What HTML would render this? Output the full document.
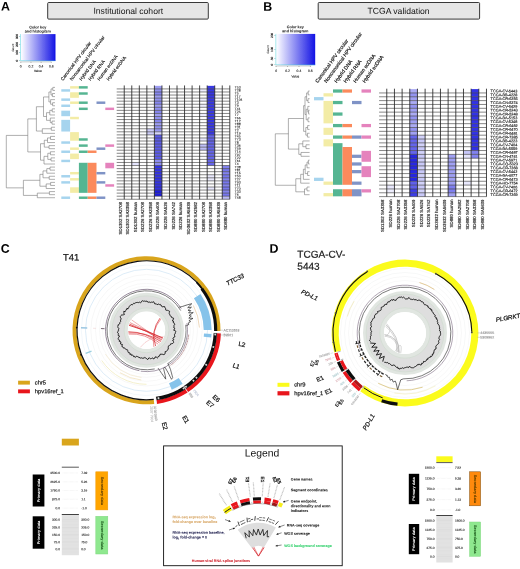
<!DOCTYPE html>
<html lang="en"><head><meta charset="utf-8"><title>Figure</title><style>html,body{margin:0;padding:0;background:#fff}body{width:520px;height:569px;overflow:hidden;font-family:"Liberation Sans",sans-serif}svg{display:block}</style></head><body>
<svg width="520" height="569" viewBox="0 0 520 569" text-rendering="geometricPrecision" font-family='"Liberation Sans", sans-serif'>
<rect x="0.00" y="0.00" width="520.00" height="569.00" fill="#fff"/>
<defs><filter id="soft" x="0" y="0" width="520" height="569" filterUnits="userSpaceOnUse"><feGaussianBlur stdDeviation="0.33"/></filter></defs>
<g filter="url(#soft)">
<rect x="0.00" y="0.00" width="520.00" height="569.00" fill="#fff"/>
<text x="0.90" y="10.60" font-size="12.4" font-weight="bold" fill="#000" transform="rotate(0.05 0.90 10.60)">A</text>
<text x="263.30" y="10.70" font-size="12.4" font-weight="bold" fill="#000" transform="rotate(0.05 263.30 10.70)">B</text>
<text x="0.70" y="252.80" font-size="12.4" font-weight="bold" fill="#000" transform="rotate(0.05 0.70 252.80)">C</text>
<text x="269.60" y="252.80" font-size="12.4" font-weight="bold" fill="#000" transform="rotate(0.05 269.60 252.80)">D</text>
<rect x="47.70" y="2.50" width="160.60" height="16.60" fill="#e6e6e6" stroke="#222" stroke-width="0.9" rx="1" ry="1"/>
<text x="128.30" y="13.90" font-size="8.6" text-anchor="middle" fill="#111" transform="rotate(0.05 128.30 13.90)">Institutional cohort</text>
<rect x="318.20" y="2.50" width="161.40" height="16.60" fill="#e6e6e6" stroke="#222" stroke-width="0.9" rx="1" ry="1"/>
<text x="398.60" y="13.90" font-size="8.6" text-anchor="middle" fill="#111" transform="rotate(0.05 398.60 13.90)">TCGA validation</text>
<defs><linearGradient id="gA" x1="0" x2="1" y1="0" y2="0"><stop offset="0" stop-color="#ffffff"/><stop offset="0.06" stop-color="#f6f6ff"/><stop offset="1" stop-color="#1212e4"/></linearGradient></defs>
<rect x="20.20" y="34.10" width="35.30" height="26.90" fill="url(#gA)"/>
<text x="37.80" y="28.40" font-size="3.8" text-anchor="middle" font-weight="bold" fill="#1a1a1a" transform="rotate(0.05 37.80 28.40)" stroke="#1a1a1a" stroke-width="0.046">Color key</text>
<text x="37.80" y="32.50" font-size="3.8" text-anchor="middle" font-weight="bold" fill="#1a1a1a" transform="rotate(0.05 37.80 32.50)" stroke="#1a1a1a" stroke-width="0.046">and histogram</text>
<path d="M20.50 34.10 L20.50 60.50 L25.20 60.70 L55.50 60.80" fill="none" stroke="#3fd0dc" stroke-width="0.45"/>
<line x1="20.20" y1="61.90" x2="51.50" y2="61.90" stroke="#555" stroke-width="0.3"/>
<line x1="20.80" y1="61.90" x2="20.80" y2="62.90" stroke="#444" stroke-width="0.35"/>
<text x="20.80" y="67.40" font-size="3.4" text-anchor="middle" fill="#222" transform="rotate(0.05 20.80 67.40)" stroke="#222" stroke-width="0.109">0</text>
<line x1="30.97" y1="61.90" x2="30.97" y2="62.90" stroke="#444" stroke-width="0.35"/>
<text x="30.97" y="67.40" font-size="3.4" text-anchor="middle" fill="#222" transform="rotate(0.05 30.97 67.40)" stroke="#222" stroke-width="0.109">0.2</text>
<line x1="41.13" y1="61.90" x2="41.13" y2="62.90" stroke="#444" stroke-width="0.35"/>
<text x="41.13" y="67.40" font-size="3.4" text-anchor="middle" fill="#222" transform="rotate(0.05 41.13 67.40)" stroke="#222" stroke-width="0.109">0.4</text>
<line x1="51.30" y1="61.90" x2="51.30" y2="62.90" stroke="#444" stroke-width="0.35"/>
<text x="51.30" y="67.40" font-size="3.4" text-anchor="middle" fill="#222" transform="rotate(0.05 51.30 67.40)" stroke="#222" stroke-width="0.109">0.6</text>
<text x="37.80" y="72.00" font-size="3.1" text-anchor="middle" fill="#222" transform="rotate(0.05 37.80 72.00)" stroke="#222" stroke-width="0.099">Value</text>
<line x1="19.00" y1="60.60" x2="20.20" y2="60.60" stroke="#2a8a9a" stroke-width="0.4"/>
<text x="17.60" y="60.60" font-size="3.1" text-anchor="middle" fill="#222" transform="rotate(-90.00 17.60 60.60)" stroke="#222" stroke-width="0.099">0</text>
<line x1="19.00" y1="52.50" x2="20.20" y2="52.50" stroke="#2a8a9a" stroke-width="0.4"/>
<text x="17.60" y="52.50" font-size="3.1" text-anchor="middle" fill="#222" transform="rotate(-90.00 17.60 52.50)" stroke="#222" stroke-width="0.099">100</text>
<line x1="19.00" y1="44.50" x2="20.20" y2="44.50" stroke="#2a8a9a" stroke-width="0.4"/>
<text x="17.60" y="44.50" font-size="3.1" text-anchor="middle" fill="#222" transform="rotate(-90.00 17.60 44.50)" stroke="#222" stroke-width="0.099">200</text>
<line x1="19.00" y1="36.50" x2="20.20" y2="36.50" stroke="#2a8a9a" stroke-width="0.4"/>
<text x="17.60" y="36.50" font-size="3.1" text-anchor="middle" fill="#222" transform="rotate(-90.00 17.60 36.50)" stroke="#222" stroke-width="0.099">300</text>
<text x="13.60" y="47.55" font-size="3.0" text-anchor="middle" fill="#222" transform="rotate(-90.00 13.60 47.55)" stroke="#222" stroke-width="0.096">Count</text>
<text x="62.90" y="81.00" font-size="4.6" fill="#111" transform="rotate(-53.00 62.90 81.00)" stroke="#111" stroke-width="0.147">Canonical HPV circular</text>
<text x="72.10" y="81.00" font-size="4.6" fill="#111" transform="rotate(-53.00 72.10 81.00)" stroke="#111" stroke-width="0.147">Noncanonical HPV circular</text>
<text x="81.40" y="81.00" font-size="4.6" fill="#111" transform="rotate(-53.00 81.40 81.00)" stroke="#111" stroke-width="0.147">Hybrid DNA</text>
<text x="90.40" y="81.00" font-size="4.6" fill="#111" transform="rotate(-53.00 90.40 81.00)" stroke="#111" stroke-width="0.147">Hybrid RNA</text>
<text x="99.40" y="81.00" font-size="4.6" fill="#111" transform="rotate(-53.00 99.40 81.00)" stroke="#111" stroke-width="0.147">Human ecDNA</text>
<text x="108.80" y="81.00" font-size="4.6" fill="#111" transform="rotate(-53.00 108.80 81.00)" stroke="#111" stroke-width="0.147">Hybrid ecDNA</text>
<rect x="61.30" y="89.21" width="8.80" height="2.46" fill="#a6d4ee"/>
<rect x="61.30" y="98.41" width="8.80" height="2.46" fill="#a6d4ee"/>
<rect x="61.30" y="104.54" width="8.80" height="2.46" fill="#a6d4ee"/>
<rect x="61.30" y="110.67" width="8.80" height="5.53" fill="#a6d4ee"/>
<rect x="61.30" y="119.86" width="8.80" height="11.66" fill="#a6d4ee"/>
<rect x="61.30" y="141.32" width="8.80" height="2.46" fill="#a6d4ee"/>
<rect x="61.30" y="150.51" width="8.80" height="2.46" fill="#a6d4ee"/>
<rect x="61.30" y="159.71" width="8.80" height="2.46" fill="#a6d4ee"/>
<rect x="61.30" y="175.04" width="8.80" height="2.46" fill="#a6d4ee"/>
<rect x="61.30" y="181.17" width="8.80" height="2.46" fill="#a6d4ee"/>
<rect x="61.30" y="196.49" width="8.80" height="2.46" fill="#a6d4ee"/>
<rect x="70.10" y="86.15" width="8.80" height="2.46" fill="#f3eca6"/>
<rect x="70.10" y="92.28" width="8.80" height="5.53" fill="#f3eca6"/>
<rect x="70.10" y="101.47" width="8.80" height="2.46" fill="#f3eca6"/>
<rect x="70.10" y="116.80" width="8.80" height="2.46" fill="#f3eca6"/>
<rect x="70.10" y="132.12" width="8.80" height="8.60" fill="#f3eca6"/>
<rect x="70.10" y="147.45" width="8.80" height="2.46" fill="#f3eca6"/>
<rect x="70.10" y="153.58" width="8.80" height="5.53" fill="#f3eca6"/>
<rect x="70.10" y="171.97" width="8.80" height="2.46" fill="#f3eca6"/>
<rect x="70.10" y="178.10" width="8.80" height="2.46" fill="#f3eca6"/>
<rect x="70.10" y="187.30" width="8.80" height="5.53" fill="#f3eca6"/>
<rect x="78.90" y="86.15" width="8.80" height="2.46" fill="#55b592"/>
<rect x="78.90" y="92.28" width="8.80" height="2.46" fill="#55b592"/>
<rect x="78.90" y="101.47" width="8.80" height="2.46" fill="#55b592"/>
<rect x="78.90" y="107.60" width="8.80" height="2.46" fill="#55b592"/>
<rect x="78.90" y="138.25" width="8.80" height="2.46" fill="#55b592"/>
<rect x="78.90" y="144.38" width="8.80" height="2.46" fill="#55b592"/>
<rect x="78.90" y="150.51" width="8.80" height="2.46" fill="#55b592"/>
<rect x="78.90" y="162.78" width="8.80" height="30.05" fill="#55b592"/>
<rect x="78.90" y="196.49" width="8.80" height="2.46" fill="#55b592"/>
<rect x="87.70" y="150.51" width="8.80" height="2.46" fill="#fb8a5c"/>
<rect x="87.70" y="162.78" width="8.80" height="30.05" fill="#fb8a5c"/>
<rect x="87.70" y="196.49" width="8.80" height="2.46" fill="#fb8a5c"/>
<rect x="96.50" y="101.47" width="8.80" height="2.46" fill="#7f93c6"/>
<rect x="96.50" y="147.45" width="8.80" height="2.46" fill="#7f93c6"/>
<rect x="96.50" y="171.97" width="8.80" height="2.46" fill="#7f93c6"/>
<rect x="96.50" y="181.17" width="8.80" height="2.46" fill="#7f93c6"/>
<rect x="96.50" y="196.49" width="8.80" height="2.46" fill="#7f93c6"/>
<rect x="105.30" y="107.60" width="8.80" height="2.46" fill="#e583bd"/>
<rect x="105.30" y="144.38" width="8.80" height="2.46" fill="#e583bd"/>
<rect x="105.30" y="162.78" width="8.80" height="5.53" fill="#e583bd"/>
<rect x="105.30" y="184.23" width="8.80" height="2.46" fill="#e583bd"/>
<rect x="154.40" y="85.85" width="7.54" height="3.06" fill="#9d9df3"/>
<rect x="207.18" y="85.85" width="7.54" height="3.06" fill="#3737e5"/>
<rect x="154.40" y="88.91" width="7.54" height="3.06" fill="#9292f1"/>
<rect x="207.18" y="88.91" width="7.54" height="3.06" fill="#3737e5"/>
<rect x="154.40" y="91.98" width="7.54" height="3.06" fill="#8787f0"/>
<rect x="207.18" y="91.98" width="7.54" height="3.06" fill="#3737e5"/>
<rect x="154.40" y="95.04" width="7.54" height="3.06" fill="#9d9df3"/>
<rect x="207.18" y="95.04" width="7.54" height="3.06" fill="#3737e5"/>
<rect x="154.40" y="98.11" width="7.54" height="3.06" fill="#9292f1"/>
<rect x="207.18" y="98.11" width="7.54" height="3.06" fill="#3737e5"/>
<rect x="154.40" y="101.17" width="7.54" height="3.06" fill="#8787f0"/>
<rect x="207.18" y="101.17" width="7.54" height="3.06" fill="#3737e5"/>
<rect x="154.40" y="104.24" width="7.54" height="3.06" fill="#9d9df3"/>
<rect x="207.18" y="104.24" width="7.54" height="3.06" fill="#3737e5"/>
<rect x="154.40" y="107.30" width="7.54" height="3.06" fill="#9292f1"/>
<rect x="207.18" y="107.30" width="7.54" height="3.06" fill="#3737e5"/>
<rect x="154.40" y="110.37" width="7.54" height="3.06" fill="#8787f0"/>
<rect x="207.18" y="110.37" width="7.54" height="3.06" fill="#3737e5"/>
<rect x="154.40" y="113.44" width="7.54" height="3.06" fill="#9d9df3"/>
<rect x="207.18" y="113.44" width="7.54" height="3.06" fill="#3737e5"/>
<rect x="154.40" y="116.50" width="7.54" height="3.06" fill="#9292f1"/>
<rect x="207.18" y="116.50" width="7.54" height="3.06" fill="#3737e5"/>
<rect x="154.40" y="119.56" width="7.54" height="3.06" fill="#8787f0"/>
<rect x="207.18" y="119.56" width="7.54" height="3.06" fill="#3737e5"/>
<rect x="154.40" y="122.63" width="7.54" height="3.06" fill="#9d9df3"/>
<rect x="207.18" y="122.63" width="7.54" height="3.06" fill="#3737e5"/>
<rect x="154.40" y="125.69" width="7.54" height="3.06" fill="#9292f1"/>
<rect x="207.18" y="125.69" width="7.54" height="3.06" fill="#3737e5"/>
<rect x="154.40" y="128.76" width="7.54" height="3.06" fill="#9999f2"/>
<rect x="207.18" y="128.76" width="7.54" height="3.06" fill="#3737e5"/>
<rect x="154.40" y="131.82" width="7.54" height="3.06" fill="#d6d6fa"/>
<rect x="207.18" y="131.82" width="7.54" height="3.06" fill="#3737e5"/>
<rect x="154.40" y="134.89" width="7.54" height="3.06" fill="#5c5cea"/>
<rect x="207.18" y="134.89" width="7.54" height="3.06" fill="#6565eb"/>
<rect x="154.40" y="137.95" width="7.54" height="3.06" fill="#5c5cea"/>
<rect x="207.18" y="137.95" width="7.54" height="3.06" fill="#6565eb"/>
<rect x="154.40" y="141.02" width="7.54" height="3.06" fill="#5c5cea"/>
<rect x="207.18" y="141.02" width="7.54" height="3.06" fill="#6565eb"/>
<rect x="154.40" y="144.08" width="7.54" height="3.06" fill="#5c5cea"/>
<rect x="207.18" y="144.08" width="7.54" height="3.06" fill="#6565eb"/>
<rect x="154.40" y="147.15" width="7.54" height="3.06" fill="#5c5cea"/>
<rect x="207.18" y="147.15" width="7.54" height="3.06" fill="#6565eb"/>
<rect x="154.40" y="150.21" width="7.54" height="3.06" fill="#5c5cea"/>
<rect x="207.18" y="150.21" width="7.54" height="3.06" fill="#6565eb"/>
<rect x="154.40" y="153.28" width="7.54" height="3.06" fill="#5c5cea"/>
<rect x="207.18" y="153.28" width="7.54" height="3.06" fill="#6565eb"/>
<rect x="154.40" y="156.34" width="7.54" height="3.06" fill="#5c5cea"/>
<rect x="207.18" y="156.34" width="7.54" height="3.06" fill="#6565eb"/>
<rect x="154.40" y="159.41" width="7.54" height="3.06" fill="#8e8ef0"/>
<rect x="207.18" y="159.41" width="7.54" height="3.06" fill="#6565eb"/>
<rect x="154.40" y="162.47" width="7.54" height="3.06" fill="#8e8ef0"/>
<rect x="207.18" y="162.47" width="7.54" height="3.06" fill="#6565eb"/>
<rect x="154.40" y="165.54" width="7.54" height="3.06" fill="#3333e5"/>
<rect x="222.26" y="165.54" width="7.54" height="3.06" fill="#8282ef"/>
<rect x="154.40" y="168.60" width="7.54" height="3.06" fill="#3333e5"/>
<rect x="222.26" y="168.60" width="7.54" height="3.06" fill="#7777ee"/>
<rect x="154.40" y="171.67" width="7.54" height="3.06" fill="#3333e5"/>
<rect x="222.26" y="171.67" width="7.54" height="3.06" fill="#8282ef"/>
<rect x="154.40" y="174.74" width="7.54" height="3.06" fill="#3333e5"/>
<rect x="207.18" y="174.74" width="7.54" height="3.06" fill="#e8e8fc"/>
<rect x="222.26" y="174.74" width="7.54" height="3.06" fill="#7777ee"/>
<rect x="154.40" y="177.80" width="7.54" height="3.06" fill="#3333e5"/>
<rect x="207.18" y="177.80" width="7.54" height="3.06" fill="#e8e8fc"/>
<rect x="222.26" y="177.80" width="7.54" height="3.06" fill="#8282ef"/>
<rect x="154.40" y="180.87" width="7.54" height="3.06" fill="#3333e5"/>
<rect x="222.26" y="180.87" width="7.54" height="3.06" fill="#7777ee"/>
<rect x="154.40" y="183.93" width="7.54" height="3.06" fill="#3333e5"/>
<rect x="222.26" y="183.93" width="7.54" height="3.06" fill="#8282ef"/>
<rect x="154.40" y="187.00" width="7.54" height="3.06" fill="#3333e5"/>
<rect x="207.18" y="187.00" width="7.54" height="3.06" fill="#e8e8fc"/>
<rect x="222.26" y="187.00" width="7.54" height="3.06" fill="#7777ee"/>
<rect x="154.40" y="190.06" width="7.54" height="3.06" fill="#1c1ce2"/>
<rect x="222.26" y="190.06" width="7.54" height="3.06" fill="#8282ef"/>
<rect x="154.40" y="193.12" width="7.54" height="3.06" fill="#1c1ce2"/>
<rect x="222.26" y="193.12" width="7.54" height="3.06" fill="#7777ee"/>
<rect x="222.26" y="196.19" width="7.54" height="3.06" fill="#bbbbf6"/>
<rect x="146.86" y="128.76" width="7.54" height="3.06" fill="#cdcdf9"/>
<rect x="146.86" y="131.82" width="7.54" height="3.06" fill="#cdcdf9"/>
<rect x="199.64" y="144.08" width="7.54" height="3.06" fill="#bfbff7"/>
<rect x="199.64" y="147.15" width="7.54" height="3.06" fill="#bfbff7"/>
<rect x="199.64" y="88.91" width="7.54" height="3.06" fill="#ededfd"/>
<rect x="199.64" y="98.11" width="7.54" height="3.06" fill="#ededfd"/>
<rect x="199.64" y="104.24" width="7.54" height="3.06" fill="#ededfd"/>
<rect x="199.64" y="113.44" width="7.54" height="3.06" fill="#ededfd"/>
<rect x="131.78" y="162.47" width="7.54" height="3.06" fill="#e4e4fc"/>
<rect x="199.64" y="137.95" width="7.54" height="3.06" fill="#e8e8fc"/>
<path d="M116.70 88.91H229.80M116.70 91.98H229.80M116.70 95.04H229.80M116.70 98.11H229.80M116.70 101.17H229.80M116.70 104.24H229.80M116.70 107.30H229.80M116.70 110.37H229.80M116.70 113.44H229.80M116.70 116.50H229.80M116.70 119.56H229.80M116.70 122.63H229.80M116.70 125.69H229.80M116.70 128.76H229.80M116.70 131.82H229.80M116.70 134.89H229.80M116.70 137.95H229.80M116.70 141.02H229.80M116.70 144.08H229.80M116.70 147.15H229.80M116.70 150.21H229.80M116.70 153.28H229.80M116.70 156.34H229.80M116.70 159.41H229.80M116.70 162.47H229.80M116.70 165.54H229.80M116.70 168.60H229.80M116.70 171.67H229.80M116.70 174.74H229.80M116.70 177.80H229.80M116.70 180.87H229.80M116.70 183.93H229.80M116.70 187.00H229.80M116.70 190.06H229.80M116.70 193.12H229.80M116.70 196.19H229.80M116.70 199.25H229.80" fill="none" stroke="#3a3a3a" stroke-width="0.62"/>
<path d="M124.24 85.45V199.25M131.78 85.45V199.25M139.32 85.45V199.25M146.86 85.45V199.25M154.40 85.45V199.25M161.94 85.45V199.25M169.48 85.45V199.25M177.02 85.45V199.25M184.56 85.45V199.25M192.10 85.45V199.25M199.64 85.45V199.25M207.18 85.45V199.25M214.72 85.45V199.25M222.26 85.45V199.25M229.80 85.45V199.25" fill="none" stroke="#262626" stroke-width="0.85"/>
<text x="121.77" y="202.00" font-size="4.35" text-anchor="end" fill="#222" transform="rotate(-90.00 121.77 202.00)" stroke="#222" stroke-width="0.139">SD1302 SA2708</text>
<text x="129.31" y="202.00" font-size="4.35" text-anchor="end" fill="#222" transform="rotate(-90.00 129.31 202.00)" stroke="#222" stroke-width="0.139">SD1302 SA3358</text>
<text x="136.85" y="202.00" font-size="4.35" text-anchor="end" fill="#222" transform="rotate(-90.00 136.85 202.00)" stroke="#222" stroke-width="0.139">SD1302 human</text>
<text x="144.39" y="202.00" font-size="4.35" text-anchor="end" fill="#222" transform="rotate(-90.00 144.39 202.00)" stroke="#222" stroke-width="0.139">SD226 SA2708</text>
<text x="151.93" y="202.00" font-size="4.35" text-anchor="end" fill="#222" transform="rotate(-90.00 151.93 202.00)" stroke="#222" stroke-width="0.139">SD226 SA3358</text>
<text x="159.47" y="202.00" font-size="4.35" text-anchor="end" fill="#222" transform="rotate(-90.00 159.47 202.00)" stroke="#222" stroke-width="0.139">SD226 SA409</text>
<text x="167.01" y="202.00" font-size="4.35" text-anchor="end" fill="#222" transform="rotate(-90.00 167.01 202.00)" stroke="#222" stroke-width="0.139">SD226 SA526</text>
<text x="174.55" y="202.00" font-size="4.35" text-anchor="end" fill="#222" transform="rotate(-90.00 174.55 202.00)" stroke="#222" stroke-width="0.139">SD226 SA742</text>
<text x="182.09" y="202.00" font-size="4.35" text-anchor="end" fill="#222" transform="rotate(-90.00 182.09 202.00)" stroke="#222" stroke-width="0.139">SD226 human</text>
<text x="189.63" y="202.00" font-size="4.35" text-anchor="end" fill="#222" transform="rotate(-90.00 189.63 202.00)" stroke="#222" stroke-width="0.139">SD3632 SA5639</text>
<text x="197.17" y="202.00" font-size="4.35" text-anchor="end" fill="#222" transform="rotate(-90.00 197.17 202.00)" stroke="#222" stroke-width="0.139">SD880 SA2582</text>
<text x="204.71" y="202.00" font-size="4.35" text-anchor="end" fill="#222" transform="rotate(-90.00 204.71 202.00)" stroke="#222" stroke-width="0.139">SD880 SA2708</text>
<text x="212.25" y="202.00" font-size="4.35" text-anchor="end" fill="#222" transform="rotate(-90.00 212.25 202.00)" stroke="#222" stroke-width="0.139">SD880 SA3358</text>
<text x="219.79" y="202.00" font-size="4.35" text-anchor="end" fill="#222" transform="rotate(-90.00 219.79 202.00)" stroke="#222" stroke-width="0.139">SD880 SA5639</text>
<text x="227.33" y="202.00" font-size="4.35" text-anchor="end" fill="#222" transform="rotate(-90.00 227.33 202.00)" stroke="#222" stroke-width="0.139">SD880 human</text>
<text x="234.80" y="88.48" font-size="3.3" fill="#2a2a2a" transform="rotate(0.05 234.80 88.48)" stroke="#2a2a2a" stroke-width="0.106">T53</text>
<text x="234.80" y="91.55" font-size="3.3" fill="#2a2a2a" transform="rotate(0.05 234.80 91.55)" stroke="#2a2a2a" stroke-width="0.106">T28</text>
<text x="234.80" y="94.61" font-size="3.3" fill="#2a2a2a" transform="rotate(0.05 234.80 94.61)" stroke="#2a2a2a" stroke-width="0.106">T5</text>
<text x="234.80" y="97.68" font-size="3.3" fill="#2a2a2a" transform="rotate(0.05 234.80 97.68)" stroke="#2a2a2a" stroke-width="0.106">T17</text>
<text x="234.80" y="100.74" font-size="3.3" fill="#2a2a2a" transform="rotate(0.05 234.80 100.74)" stroke="#2a2a2a" stroke-width="0.106">T104</text>
<text x="234.80" y="103.81" font-size="3.3" fill="#2a2a2a" transform="rotate(0.05 234.80 103.81)" stroke="#2a2a2a" stroke-width="0.106">T3</text>
<text x="234.80" y="106.87" font-size="3.3" fill="#2a2a2a" transform="rotate(0.05 234.80 106.87)" stroke="#2a2a2a" stroke-width="0.106">T9</text>
<text x="234.80" y="109.94" font-size="3.3" fill="#2a2a2a" transform="rotate(0.05 234.80 109.94)" stroke="#2a2a2a" stroke-width="0.106">T41</text>
<text x="234.80" y="113.00" font-size="3.3" fill="#2a2a2a" transform="rotate(0.05 234.80 113.00)" stroke="#2a2a2a" stroke-width="0.106">T25</text>
<text x="234.80" y="116.07" font-size="3.3" fill="#2a2a2a" transform="rotate(0.05 234.80 116.07)" stroke="#2a2a2a" stroke-width="0.106">T7</text>
<text x="234.80" y="119.13" font-size="3.3" fill="#2a2a2a" transform="rotate(0.05 234.80 119.13)" stroke="#2a2a2a" stroke-width="0.106">T66</text>
<text x="234.80" y="122.20" font-size="3.3" fill="#2a2a2a" transform="rotate(0.05 234.80 122.20)" stroke="#2a2a2a" stroke-width="0.106">T12</text>
<text x="234.80" y="125.26" font-size="3.3" fill="#2a2a2a" transform="rotate(0.05 234.80 125.26)" stroke="#2a2a2a" stroke-width="0.106">T88</text>
<text x="234.80" y="128.33" font-size="3.3" fill="#2a2a2a" transform="rotate(0.05 234.80 128.33)" stroke="#2a2a2a" stroke-width="0.106">T31</text>
<text x="234.80" y="131.39" font-size="3.3" fill="#2a2a2a" transform="rotate(0.05 234.80 131.39)" stroke="#2a2a2a" stroke-width="0.106">T2</text>
<text x="234.80" y="134.46" font-size="3.3" fill="#2a2a2a" transform="rotate(0.05 234.80 134.46)" stroke="#2a2a2a" stroke-width="0.106">T19</text>
<text x="234.80" y="137.52" font-size="3.3" fill="#2a2a2a" transform="rotate(0.05 234.80 137.52)" stroke="#2a2a2a" stroke-width="0.106">T45</text>
<text x="234.80" y="140.59" font-size="3.3" fill="#2a2a2a" transform="rotate(0.05 234.80 140.59)" stroke="#2a2a2a" stroke-width="0.106">T73</text>
<text x="234.80" y="143.65" font-size="3.3" fill="#2a2a2a" transform="rotate(0.05 234.80 143.65)" stroke="#2a2a2a" stroke-width="0.106">T8</text>
<text x="234.80" y="146.72" font-size="3.3" fill="#2a2a2a" transform="rotate(0.05 234.80 146.72)" stroke="#2a2a2a" stroke-width="0.106">T36</text>
<text x="234.80" y="149.78" font-size="3.3" fill="#2a2a2a" transform="rotate(0.05 234.80 149.78)" stroke="#2a2a2a" stroke-width="0.106">T59</text>
<text x="234.80" y="152.85" font-size="3.3" fill="#2a2a2a" transform="rotate(0.05 234.80 152.85)" stroke="#2a2a2a" stroke-width="0.106">T14</text>
<text x="234.80" y="155.91" font-size="3.3" fill="#2a2a2a" transform="rotate(0.05 234.80 155.91)" stroke="#2a2a2a" stroke-width="0.106">T97</text>
<text x="234.80" y="158.98" font-size="3.3" fill="#2a2a2a" transform="rotate(0.05 234.80 158.98)" stroke="#2a2a2a" stroke-width="0.106">T22</text>
<text x="234.80" y="162.04" font-size="3.3" fill="#2a2a2a" transform="rotate(0.05 234.80 162.04)" stroke="#2a2a2a" stroke-width="0.106">T61</text>
<text x="234.80" y="165.11" font-size="3.3" fill="#2a2a2a" transform="rotate(0.05 234.80 165.11)" stroke="#2a2a2a" stroke-width="0.106">T4</text>
<text x="234.80" y="168.17" font-size="3.3" fill="#2a2a2a" transform="rotate(0.05 234.80 168.17)" stroke="#2a2a2a" stroke-width="0.106">T38</text>
<text x="234.80" y="171.24" font-size="3.3" fill="#2a2a2a" transform="rotate(0.05 234.80 171.24)" stroke="#2a2a2a" stroke-width="0.106">T81</text>
<text x="234.80" y="174.30" font-size="3.3" fill="#2a2a2a" transform="rotate(0.05 234.80 174.30)" stroke="#2a2a2a" stroke-width="0.106">T16</text>
<text x="234.80" y="177.37" font-size="3.3" fill="#2a2a2a" transform="rotate(0.05 234.80 177.37)" stroke="#2a2a2a" stroke-width="0.106">T50</text>
<text x="234.80" y="180.43" font-size="3.3" fill="#2a2a2a" transform="rotate(0.05 234.80 180.43)" stroke="#2a2a2a" stroke-width="0.106">T27</text>
<text x="234.80" y="183.50" font-size="3.3" fill="#2a2a2a" transform="rotate(0.05 234.80 183.50)" stroke="#2a2a2a" stroke-width="0.106">T93</text>
<text x="234.80" y="186.56" font-size="3.3" fill="#2a2a2a" transform="rotate(0.05 234.80 186.56)" stroke="#2a2a2a" stroke-width="0.106">T11</text>
<text x="234.80" y="189.63" font-size="3.3" fill="#2a2a2a" transform="rotate(0.05 234.80 189.63)" stroke="#2a2a2a" stroke-width="0.106">T70</text>
<text x="234.80" y="192.69" font-size="3.3" fill="#2a2a2a" transform="rotate(0.05 234.80 192.69)" stroke="#2a2a2a" stroke-width="0.106">T33</text>
<text x="234.80" y="195.76" font-size="3.3" fill="#2a2a2a" transform="rotate(0.05 234.80 195.76)" stroke="#2a2a2a" stroke-width="0.106">T6</text>
<text x="234.80" y="198.82" font-size="3.3" fill="#2a2a2a" transform="rotate(0.05 234.80 198.82)" stroke="#2a2a2a" stroke-width="0.106">T48</text>
<path d="M52.80 87.38L55.00 87.38M52.80 90.45L55.00 90.45M52.80 87.38L52.80 90.45M52.40 93.51L55.00 93.51M52.40 96.58L55.00 96.58M52.40 93.51L52.40 96.58M51.00 88.91L52.80 88.91M51.00 95.04L52.40 95.04M51.00 88.91L51.00 95.04M52.60 102.71L55.00 102.71M52.60 105.77L55.00 105.77M52.60 102.71L52.60 105.77M50.60 99.64L55.00 99.64M50.60 104.24L52.60 104.24M50.60 99.64L50.60 104.24M48.90 91.98L51.00 91.98M48.90 101.94L50.60 101.94M48.90 91.98L48.90 101.94M52.20 108.84L55.00 108.84M52.20 111.90L55.00 111.90M52.20 108.84L52.20 111.90M49.80 110.37L52.20 110.37M49.80 114.97L55.00 114.97M49.80 110.37L49.80 114.97M52.00 121.10L55.00 121.10M52.00 124.16L55.00 124.16M52.00 121.10L52.00 124.16M50.30 118.03L55.00 118.03M50.30 122.63L52.00 122.63M50.30 118.03L50.30 122.63M46.50 112.67L49.80 112.67M46.50 120.33L50.30 120.33M46.50 112.67L46.50 120.33M43.50 96.96L48.90 96.96M43.50 116.50L46.50 116.50M43.50 96.96L43.50 116.50M51.30 127.23L55.00 127.23M51.30 130.29L55.00 130.29M51.30 127.23L51.30 130.29M42.30 128.76L51.30 128.76M42.30 133.36L55.00 133.36M42.30 128.76L42.30 133.36M36.40 106.73L43.50 106.73M36.40 131.06L42.30 131.06M36.40 106.73L36.40 131.06M50.50 136.42L55.00 136.42M50.50 139.49L55.00 139.49M50.50 136.42L50.50 139.49M47.50 137.95L50.50 137.95M47.50 142.55L55.00 142.55M47.50 137.95L47.50 142.55M49.00 145.62L55.00 145.62M49.00 148.68L55.00 148.68M49.00 145.62L49.00 148.68M44.30 140.25L47.50 140.25M44.30 147.15L49.00 147.15M44.30 140.25L44.30 147.15M50.40 151.75L55.00 151.75M50.40 154.81L55.00 154.81M50.40 151.75L50.40 154.81M51.00 157.88L55.00 157.88M51.00 160.94L55.00 160.94M51.00 157.88L51.00 160.94M47.80 153.28L50.40 153.28M47.80 159.41L51.00 159.41M47.80 153.28L47.80 159.41M44.00 156.34L47.80 156.34M44.00 164.01L55.00 164.01M44.00 156.34L44.00 164.01M40.50 143.70L44.30 143.70M40.50 160.18L44.00 160.18M40.50 143.70L40.50 160.18M27.80 118.89L36.40 118.89M27.80 151.94L40.50 151.94M27.80 118.89L27.80 151.94M50.00 167.07L55.00 167.07M50.00 170.14L55.00 170.14M50.00 167.07L50.00 170.14M46.80 168.60L50.00 168.60M46.80 173.20L55.00 173.20M46.80 168.60L46.80 173.20M49.20 176.27L55.00 176.27M49.20 179.33L55.00 179.33M49.20 176.27L49.20 179.33M43.00 170.90L46.80 170.90M43.00 177.80L49.20 177.80M43.00 170.90L43.00 177.80M50.60 182.40L55.00 182.40M50.60 185.46L55.00 185.46M50.60 182.40L50.60 185.46M46.20 183.93L50.60 183.93M46.20 188.53L55.00 188.53M46.20 183.93L46.20 188.53M39.90 174.35L43.00 174.35M39.90 186.23L46.20 186.23M39.90 174.35L39.90 186.23M49.40 191.59L55.00 191.59M49.40 194.66L55.00 194.66M49.40 191.59L49.40 194.66M37.30 193.12L49.40 193.12M37.30 197.72L55.00 197.72M37.30 193.12L37.30 197.72M23.40 180.29L39.90 180.29M23.40 195.42L37.30 195.42M23.40 180.29L23.40 195.42M6.30 135.42L27.80 135.42M6.30 187.86L23.40 187.86M6.30 135.42L6.30 187.86" fill="none" stroke="#6e6e6e" stroke-width="0.55"/>
<defs><linearGradient id="gB" x1="0" x2="1" y1="0" y2="0"><stop offset="0" stop-color="#ffffff"/><stop offset="0.06" stop-color="#f6f6ff"/><stop offset="1" stop-color="#1212e4"/></linearGradient></defs>
<rect x="275.50" y="33.90" width="39.70" height="31.20" fill="url(#gB)"/>
<text x="295.30" y="28.20" font-size="3.8" text-anchor="middle" font-weight="bold" fill="#1a1a1a" transform="rotate(0.05 295.30 28.20)" stroke="#1a1a1a" stroke-width="0.046">Color key</text>
<text x="295.30" y="32.30" font-size="3.8" text-anchor="middle" font-weight="bold" fill="#1a1a1a" transform="rotate(0.05 295.30 32.30)" stroke="#1a1a1a" stroke-width="0.046">and histogram</text>
<path d="M275.80 33.90 L275.80 64.60 L280.50 64.80 L315.20 64.90" fill="none" stroke="#3fd0dc" stroke-width="0.45"/>
<line x1="275.50" y1="66.00" x2="311.20" y2="66.00" stroke="#555" stroke-width="0.3"/>
<line x1="276.10" y1="66.00" x2="276.10" y2="67.00" stroke="#444" stroke-width="0.35"/>
<text x="276.10" y="72.00" font-size="3.4" text-anchor="middle" fill="#222" transform="rotate(0.05 276.10 72.00)" stroke="#222" stroke-width="0.109">0</text>
<line x1="287.53" y1="66.00" x2="287.53" y2="67.00" stroke="#444" stroke-width="0.35"/>
<text x="287.53" y="72.00" font-size="3.4" text-anchor="middle" fill="#222" transform="rotate(0.05 287.53 72.00)" stroke="#222" stroke-width="0.109">0.2</text>
<line x1="298.97" y1="66.00" x2="298.97" y2="67.00" stroke="#444" stroke-width="0.35"/>
<text x="298.97" y="72.00" font-size="3.4" text-anchor="middle" fill="#222" transform="rotate(0.05 298.97 72.00)" stroke="#222" stroke-width="0.109">0.4</text>
<line x1="310.40" y1="66.00" x2="310.40" y2="67.00" stroke="#444" stroke-width="0.35"/>
<text x="310.40" y="72.00" font-size="3.4" text-anchor="middle" fill="#222" transform="rotate(0.05 310.40 72.00)" stroke="#222" stroke-width="0.109">0.6</text>
<text x="295.30" y="77.60" font-size="3.1" text-anchor="middle" fill="#222" transform="rotate(0.05 295.30 77.60)" stroke="#222" stroke-width="0.099">Value</text>
<line x1="274.30" y1="64.60" x2="275.50" y2="64.60" stroke="#2a8a9a" stroke-width="0.4"/>
<text x="272.90" y="64.60" font-size="3.1" text-anchor="middle" fill="#222" transform="rotate(-90.00 272.90 64.60)" stroke="#222" stroke-width="0.099">0</text>
<line x1="274.30" y1="58.50" x2="275.50" y2="58.50" stroke="#2a8a9a" stroke-width="0.4"/>
<text x="272.90" y="58.50" font-size="3.1" text-anchor="middle" fill="#222" transform="rotate(-90.00 272.90 58.50)" stroke="#222" stroke-width="0.099">50</text>
<line x1="274.30" y1="49.50" x2="275.50" y2="49.50" stroke="#2a8a9a" stroke-width="0.4"/>
<text x="272.90" y="49.50" font-size="3.1" text-anchor="middle" fill="#222" transform="rotate(-90.00 272.90 49.50)" stroke="#222" stroke-width="0.099">100</text>
<line x1="274.30" y1="35.50" x2="275.50" y2="35.50" stroke="#2a8a9a" stroke-width="0.4"/>
<text x="272.90" y="35.50" font-size="3.1" text-anchor="middle" fill="#222" transform="rotate(-90.00 272.90 35.50)" stroke="#222" stroke-width="0.099">200</text>
<text x="268.90" y="49.50" font-size="3.0" text-anchor="middle" fill="#222" transform="rotate(-90.00 268.90 49.50)" stroke="#222" stroke-width="0.096">Count</text>
<text x="317.80" y="83.20" font-size="5.1" fill="#111" transform="rotate(-54.00 317.80 83.20)" stroke="#111" stroke-width="0.163">Canonical HPV circular</text>
<text x="326.60" y="83.20" font-size="5.1" fill="#111" transform="rotate(-54.00 326.60 83.20)" stroke="#111" stroke-width="0.163">Noncanonical HPV circular</text>
<text x="336.80" y="83.20" font-size="5.1" fill="#111" transform="rotate(-54.00 336.80 83.20)" stroke="#111" stroke-width="0.163">Hybrid DNA</text>
<text x="346.00" y="83.20" font-size="5.1" fill="#111" transform="rotate(-54.00 346.00 83.20)" stroke="#111" stroke-width="0.163">Hybrid RNA</text>
<text x="355.70" y="83.20" font-size="5.1" fill="#111" transform="rotate(-54.00 355.70 83.20)" stroke="#111" stroke-width="0.163">Human ecDNA</text>
<text x="364.90" y="83.20" font-size="5.1" fill="#111" transform="rotate(-54.00 364.90 83.20)" stroke="#111" stroke-width="0.163">Hybrid ecDNA</text>
<rect x="314.00" y="97.08" width="9.50" height="3.24" fill="#a6d4ee"/>
<rect x="314.00" y="177.72" width="9.50" height="3.24" fill="#a6d4ee"/>
<rect x="323.50" y="93.24" width="9.50" height="3.24" fill="#f3eca6"/>
<rect x="323.50" y="100.92" width="9.50" height="22.44" fill="#f3eca6"/>
<rect x="323.50" y="127.80" width="9.50" height="7.08" fill="#f3eca6"/>
<rect x="323.50" y="139.32" width="9.50" height="7.08" fill="#f3eca6"/>
<rect x="323.50" y="181.56" width="9.50" height="3.24" fill="#f3eca6"/>
<rect x="323.50" y="193.08" width="9.50" height="3.24" fill="#f3eca6"/>
<rect x="333.00" y="89.40" width="9.50" height="3.24" fill="#55b592"/>
<rect x="333.00" y="100.92" width="9.50" height="3.24" fill="#55b592"/>
<rect x="333.00" y="112.44" width="9.50" height="3.24" fill="#55b592"/>
<rect x="333.00" y="123.96" width="9.50" height="3.24" fill="#55b592"/>
<rect x="333.00" y="135.48" width="9.50" height="3.24" fill="#55b592"/>
<rect x="333.00" y="143.16" width="9.50" height="41.64" fill="#55b592"/>
<rect x="333.00" y="189.24" width="9.50" height="7.08" fill="#55b592"/>
<rect x="342.50" y="89.40" width="9.50" height="3.24" fill="#fb8a5c"/>
<rect x="342.50" y="123.96" width="9.50" height="3.24" fill="#fb8a5c"/>
<rect x="342.50" y="135.48" width="9.50" height="3.24" fill="#fb8a5c"/>
<rect x="342.50" y="147.00" width="9.50" height="37.80" fill="#fb8a5c"/>
<rect x="342.50" y="189.24" width="9.50" height="7.08" fill="#fb8a5c"/>
<rect x="352.00" y="100.92" width="9.50" height="3.24" fill="#7f93c6"/>
<rect x="352.00" y="135.48" width="9.50" height="3.24" fill="#7f93c6"/>
<rect x="352.00" y="154.68" width="9.50" height="3.24" fill="#7f93c6"/>
<rect x="352.00" y="162.36" width="9.50" height="3.24" fill="#7f93c6"/>
<rect x="352.00" y="170.04" width="9.50" height="3.24" fill="#7f93c6"/>
<rect x="352.00" y="181.56" width="9.50" height="3.24" fill="#7f93c6"/>
<rect x="352.00" y="189.24" width="9.50" height="7.08" fill="#7f93c6"/>
<rect x="361.50" y="89.40" width="9.50" height="3.24" fill="#e583bd"/>
<rect x="361.50" y="123.96" width="9.50" height="3.24" fill="#e583bd"/>
<rect x="361.50" y="135.48" width="9.50" height="3.24" fill="#e583bd"/>
<rect x="361.50" y="150.84" width="9.50" height="10.92" fill="#e583bd"/>
<rect x="361.50" y="166.20" width="9.50" height="10.92" fill="#e583bd"/>
<rect x="361.50" y="189.24" width="9.50" height="3.24" fill="#e583bd"/>
<rect x="409.78" y="89.10" width="7.67" height="3.84" fill="#ababf4"/>
<rect x="471.14" y="89.10" width="7.67" height="3.84" fill="#3333e5"/>
<rect x="409.78" y="92.94" width="7.67" height="3.84" fill="#9494f1"/>
<rect x="471.14" y="92.94" width="7.67" height="3.84" fill="#3333e5"/>
<rect x="409.78" y="96.78" width="7.67" height="3.84" fill="#a0a0f3"/>
<rect x="471.14" y="96.78" width="7.67" height="3.84" fill="#3333e5"/>
<rect x="409.78" y="100.62" width="7.67" height="3.84" fill="#ababf4"/>
<rect x="471.14" y="100.62" width="7.67" height="3.84" fill="#3333e5"/>
<rect x="409.78" y="104.46" width="7.67" height="3.84" fill="#9494f1"/>
<rect x="471.14" y="104.46" width="7.67" height="3.84" fill="#3333e5"/>
<rect x="409.78" y="108.30" width="7.67" height="3.84" fill="#a0a0f3"/>
<rect x="471.14" y="108.30" width="7.67" height="3.84" fill="#3333e5"/>
<rect x="409.78" y="112.14" width="7.67" height="3.84" fill="#ababf4"/>
<rect x="471.14" y="112.14" width="7.67" height="3.84" fill="#3333e5"/>
<rect x="409.78" y="115.98" width="7.67" height="3.84" fill="#9494f1"/>
<rect x="471.14" y="115.98" width="7.67" height="3.84" fill="#3333e5"/>
<rect x="409.78" y="119.82" width="7.67" height="3.84" fill="#a0a0f3"/>
<rect x="471.14" y="119.82" width="7.67" height="3.84" fill="#3333e5"/>
<rect x="409.78" y="123.66" width="7.67" height="3.84" fill="#ababf4"/>
<rect x="471.14" y="123.66" width="7.67" height="3.84" fill="#3333e5"/>
<rect x="409.78" y="127.50" width="7.67" height="3.84" fill="#9494f1"/>
<rect x="471.14" y="127.50" width="7.67" height="3.84" fill="#3333e5"/>
<rect x="409.78" y="131.34" width="7.67" height="3.84" fill="#a0a0f3"/>
<rect x="471.14" y="131.34" width="7.67" height="3.84" fill="#3333e5"/>
<rect x="409.78" y="135.18" width="7.67" height="3.84" fill="#6565eb"/>
<rect x="417.45" y="135.18" width="7.67" height="3.84" fill="#d2d2f9"/>
<rect x="471.14" y="135.18" width="7.67" height="3.84" fill="#3333e5"/>
<rect x="409.78" y="139.02" width="7.67" height="3.84" fill="#6565eb"/>
<rect x="417.45" y="139.02" width="7.67" height="3.84" fill="#c9c9f8"/>
<rect x="471.14" y="139.02" width="7.67" height="3.84" fill="#3333e5"/>
<rect x="409.78" y="142.86" width="7.67" height="3.84" fill="#6565eb"/>
<rect x="417.45" y="142.86" width="7.67" height="3.84" fill="#d2d2f9"/>
<rect x="471.14" y="142.86" width="7.67" height="3.84" fill="#3333e5"/>
<rect x="409.78" y="146.70" width="7.67" height="3.84" fill="#6565eb"/>
<rect x="417.45" y="146.70" width="7.67" height="3.84" fill="#c9c9f8"/>
<rect x="471.14" y="146.70" width="7.67" height="3.84" fill="#3333e5"/>
<rect x="409.78" y="150.54" width="7.67" height="3.84" fill="#6565eb"/>
<rect x="417.45" y="150.54" width="7.67" height="3.84" fill="#d2d2f9"/>
<rect x="471.14" y="150.54" width="7.67" height="3.84" fill="#8282ef"/>
<rect x="409.78" y="154.38" width="7.67" height="3.84" fill="#2727e3"/>
<rect x="417.45" y="154.38" width="7.67" height="3.84" fill="#c9c9f8"/>
<rect x="471.14" y="154.38" width="7.67" height="3.84" fill="#8282ef"/>
<rect x="448.13" y="154.38" width="7.67" height="3.84" fill="#a0a0f3"/>
<rect x="409.78" y="158.22" width="7.67" height="3.84" fill="#2727e3"/>
<rect x="417.45" y="158.22" width="7.67" height="3.84" fill="#d2d2f9"/>
<rect x="448.13" y="158.22" width="7.67" height="3.84" fill="#a0a0f3"/>
<rect x="409.78" y="162.06" width="7.67" height="3.84" fill="#2727e3"/>
<rect x="417.45" y="162.06" width="7.67" height="3.84" fill="#c9c9f8"/>
<rect x="448.13" y="162.06" width="7.67" height="3.84" fill="#a0a0f3"/>
<rect x="409.78" y="165.90" width="7.67" height="3.84" fill="#2727e3"/>
<rect x="417.45" y="165.90" width="7.67" height="3.84" fill="#d2d2f9"/>
<rect x="448.13" y="165.90" width="7.67" height="3.84" fill="#a0a0f3"/>
<rect x="409.78" y="169.74" width="7.67" height="3.84" fill="#2727e3"/>
<rect x="417.45" y="169.74" width="7.67" height="3.84" fill="#c9c9f8"/>
<rect x="448.13" y="169.74" width="7.67" height="3.84" fill="#a0a0f3"/>
<rect x="409.78" y="173.58" width="7.67" height="3.84" fill="#2727e3"/>
<rect x="417.45" y="173.58" width="7.67" height="3.84" fill="#d2d2f9"/>
<rect x="448.13" y="173.58" width="7.67" height="3.84" fill="#a0a0f3"/>
<rect x="409.78" y="177.42" width="7.67" height="3.84" fill="#2727e3"/>
<rect x="417.45" y="177.42" width="7.67" height="3.84" fill="#c9c9f8"/>
<rect x="448.13" y="177.42" width="7.67" height="3.84" fill="#a0a0f3"/>
<rect x="409.78" y="181.26" width="7.67" height="3.84" fill="#6060eb"/>
<rect x="417.45" y="181.26" width="7.67" height="3.84" fill="#d2d2f9"/>
<rect x="448.13" y="181.26" width="7.67" height="3.84" fill="#a0a0f3"/>
<rect x="409.78" y="185.10" width="7.67" height="3.84" fill="#6060eb"/>
<rect x="417.45" y="185.10" width="7.67" height="3.84" fill="#c9c9f8"/>
<rect x="448.13" y="185.10" width="7.67" height="3.84" fill="#7e7eee"/>
<rect x="409.78" y="188.94" width="7.67" height="3.84" fill="#3e3ee6"/>
<rect x="417.45" y="188.94" width="7.67" height="3.84" fill="#d2d2f9"/>
<rect x="448.13" y="188.94" width="7.67" height="3.84" fill="#7e7eee"/>
<rect x="409.78" y="192.78" width="7.67" height="3.84" fill="#3e3ee6"/>
<rect x="417.45" y="192.78" width="7.67" height="3.84" fill="#c9c9f8"/>
<rect x="448.13" y="192.78" width="7.67" height="3.84" fill="#a0a0f3"/>
<rect x="463.47" y="150.54" width="7.67" height="3.84" fill="#c6c6f8"/>
<rect x="463.47" y="154.38" width="7.67" height="3.84" fill="#e4e4fc"/>
<rect x="463.47" y="181.26" width="7.67" height="3.84" fill="#e8e8fc"/>
<rect x="386.77" y="185.10" width="7.67" height="3.84" fill="#e8e8fc"/>
<rect x="386.77" y="188.94" width="7.67" height="3.84" fill="#ededfd"/>
<path d="M379.10 92.94H486.48M379.10 96.78H486.48M379.10 100.62H486.48M379.10 104.46H486.48M379.10 108.30H486.48M379.10 112.14H486.48M379.10 115.98H486.48M379.10 119.82H486.48M379.10 123.66H486.48M379.10 127.50H486.48M379.10 131.34H486.48M379.10 135.18H486.48M379.10 139.02H486.48M379.10 142.86H486.48M379.10 146.70H486.48M379.10 150.54H486.48M379.10 154.38H486.48M379.10 158.22H486.48M379.10 162.06H486.48M379.10 165.90H486.48M379.10 169.74H486.48M379.10 173.58H486.48M379.10 177.42H486.48M379.10 181.26H486.48M379.10 185.10H486.48M379.10 188.94H486.48M379.10 192.78H486.48M379.10 196.62H486.48" fill="none" stroke="#3a3a3a" stroke-width="0.62"/>
<path d="M386.77 88.70V196.62M394.44 88.70V196.62M402.11 88.70V196.62M409.78 88.70V196.62M417.45 88.70V196.62M425.12 88.70V196.62M432.79 88.70V196.62M440.46 88.70V196.62M448.13 88.70V196.62M455.80 88.70V196.62M463.47 88.70V196.62M471.14 88.70V196.62M478.81 88.70V196.62M486.48 88.70V196.62" fill="none" stroke="#262626" stroke-width="0.85"/>
<text x="384.24" y="199.60" font-size="4.35" text-anchor="end" fill="#222" transform="rotate(-90.00 384.24 199.60)" stroke="#222" stroke-width="0.139">SD1302 SA3358</text>
<text x="391.91" y="199.60" font-size="4.35" text-anchor="end" fill="#222" transform="rotate(-90.00 391.91 199.60)" stroke="#222" stroke-width="0.139">SD226 human</text>
<text x="399.58" y="199.60" font-size="4.35" text-anchor="end" fill="#222" transform="rotate(-90.00 399.58 199.60)" stroke="#222" stroke-width="0.139">SD226 SA2708</text>
<text x="407.25" y="199.60" font-size="4.35" text-anchor="end" fill="#222" transform="rotate(-90.00 407.25 199.60)" stroke="#222" stroke-width="0.139">SD226 SA3358</text>
<text x="414.92" y="199.60" font-size="4.35" text-anchor="end" fill="#222" transform="rotate(-90.00 414.92 199.60)" stroke="#222" stroke-width="0.139">SD226 SA409</text>
<text x="422.59" y="199.60" font-size="4.35" text-anchor="end" fill="#222" transform="rotate(-90.00 422.59 199.60)" stroke="#222" stroke-width="0.139">SD226 SA526</text>
<text x="430.26" y="199.60" font-size="4.35" text-anchor="end" fill="#222" transform="rotate(-90.00 430.26 199.60)" stroke="#222" stroke-width="0.139">SD226 SA742</text>
<text x="437.93" y="199.60" font-size="4.35" text-anchor="end" fill="#222" transform="rotate(-90.00 437.93 199.60)" stroke="#222" stroke-width="0.139">SD3632 human</text>
<text x="445.60" y="199.60" font-size="4.35" text-anchor="end" fill="#222" transform="rotate(-90.00 445.60 199.60)" stroke="#222" stroke-width="0.139">SD3632 SA5639</text>
<text x="453.27" y="199.60" font-size="4.35" text-anchor="end" fill="#222" transform="rotate(-90.00 453.27 199.60)" stroke="#222" stroke-width="0.139">SD880 human</text>
<text x="460.94" y="199.60" font-size="4.35" text-anchor="end" fill="#222" transform="rotate(-90.00 460.94 199.60)" stroke="#222" stroke-width="0.139">SD880 SA2582</text>
<text x="468.61" y="199.60" font-size="4.35" text-anchor="end" fill="#222" transform="rotate(-90.00 468.61 199.60)" stroke="#222" stroke-width="0.139">SD880 SA2708</text>
<text x="476.28" y="199.60" font-size="4.35" text-anchor="end" fill="#222" transform="rotate(-90.00 476.28 199.60)" stroke="#222" stroke-width="0.139">SD880 SA3358</text>
<text x="483.95" y="199.60" font-size="4.35" text-anchor="end" fill="#222" transform="rotate(-90.00 483.95 199.60)" stroke="#222" stroke-width="0.139">SD880 SA5639</text>
<text x="490.60" y="92.37" font-size="3.82" fill="#222" transform="rotate(0.05 490.60 92.37)" stroke="#222" stroke-width="0.122">TCGA-CV-5443</text>
<text x="490.60" y="96.21" font-size="3.82" fill="#222" transform="rotate(0.05 490.60 96.21)" stroke="#222" stroke-width="0.122">TCGA-BB-4228</text>
<text x="490.60" y="100.05" font-size="3.82" fill="#222" transform="rotate(0.05 490.60 100.05)" stroke="#222" stroke-width="0.122">TCGA-CR-6256</text>
<text x="490.60" y="103.89" font-size="3.82" fill="#222" transform="rotate(0.05 490.60 103.89)" stroke="#222" stroke-width="0.122">TCGA-CN-5374</text>
<text x="490.60" y="107.73" font-size="3.82" fill="#222" transform="rotate(0.05 490.60 107.73)" stroke="#222" stroke-width="0.122">TCGA-CV-6429</text>
<text x="490.60" y="111.57" font-size="3.82" fill="#222" transform="rotate(0.05 490.60 111.57)" stroke="#222" stroke-width="0.122">TCGA-CR-5243</text>
<text x="490.60" y="115.41" font-size="3.82" fill="#222" transform="rotate(0.05 490.60 115.41)" stroke="#222" stroke-width="0.122">TCGA-CR-5248</text>
<text x="490.60" y="119.25" font-size="3.82" fill="#222" transform="rotate(0.05 490.60 119.25)" stroke="#222" stroke-width="0.122">TCGA-BA-5153</text>
<text x="490.60" y="123.09" font-size="3.82" fill="#222" transform="rotate(0.05 490.60 123.09)" stroke="#222" stroke-width="0.122">TCGA-CV-5348</text>
<text x="490.60" y="126.93" font-size="3.82" fill="#222" transform="rotate(0.05 490.60 126.93)" stroke="#222" stroke-width="0.122">TCGA-CR-6482</text>
<text x="490.60" y="130.77" font-size="3.82" fill="#222" transform="rotate(0.05 490.60 130.77)" stroke="#222" stroke-width="0.122">TCGA-CR-6470</text>
<text x="490.60" y="134.61" font-size="3.82" fill="#222" transform="rotate(0.05 490.60 134.61)" stroke="#222" stroke-width="0.122">TCGA-CR-6481</text>
<text x="490.60" y="138.45" font-size="3.82" fill="#222" transform="rotate(0.05 490.60 138.45)" stroke="#222" stroke-width="0.122">TCGA-CR-7385</text>
<text x="490.60" y="142.29" font-size="3.82" fill="#222" transform="rotate(0.05 490.60 142.29)" stroke="#222" stroke-width="0.122">TCGA-BB-4223</text>
<text x="490.60" y="146.13" font-size="3.82" fill="#222" transform="rotate(0.05 490.60 146.13)" stroke="#222" stroke-width="0.122">TCGA-CV-7404</text>
<text x="490.60" y="149.97" font-size="3.82" fill="#222" transform="rotate(0.05 490.60 149.97)" stroke="#222" stroke-width="0.122">TCGA-BA-5559</text>
<text x="490.60" y="153.81" font-size="3.82" fill="#222" transform="rotate(0.05 490.60 153.81)" stroke="#222" stroke-width="0.122">TCGA-CR-6487</text>
<text x="490.60" y="157.65" font-size="3.82" fill="#222" transform="rotate(0.05 490.60 157.65)" stroke="#222" stroke-width="0.122">TCGA-CN-4741</text>
<text x="490.60" y="161.49" font-size="3.82" fill="#222" transform="rotate(0.05 490.60 161.49)" stroke="#222" stroke-width="0.122">TCGA-CV-5971</text>
<text x="490.60" y="165.33" font-size="3.82" fill="#222" transform="rotate(0.05 490.60 165.33)" stroke="#222" stroke-width="0.122">TCGA-CQ-5323</text>
<text x="490.60" y="169.17" font-size="3.82" fill="#222" transform="rotate(0.05 490.60 169.17)" stroke="#222" stroke-width="0.122">TCGA-CR-7368</text>
<text x="490.60" y="173.01" font-size="3.82" fill="#222" transform="rotate(0.05 490.60 173.01)" stroke="#222" stroke-width="0.122">TCGA-CV-5442</text>
<text x="490.60" y="176.85" font-size="3.82" fill="#222" transform="rotate(0.05 490.60 176.85)" stroke="#222" stroke-width="0.122">TCGA-BA-4077</text>
<text x="490.60" y="180.69" font-size="3.82" fill="#222" transform="rotate(0.05 490.60 180.69)" stroke="#222" stroke-width="0.122">TCGA-CR-6473</text>
<text x="490.60" y="184.53" font-size="3.82" fill="#222" transform="rotate(0.05 490.60 184.53)" stroke="#222" stroke-width="0.122">TCGA-HD-7754</text>
<text x="490.60" y="188.37" font-size="3.82" fill="#222" transform="rotate(0.05 490.60 188.37)" stroke="#222" stroke-width="0.122">TCGA-CV-7406</text>
<text x="490.60" y="192.21" font-size="3.82" fill="#222" transform="rotate(0.05 490.60 192.21)" stroke="#222" stroke-width="0.122">TCGA-CR-6472</text>
<text x="490.60" y="196.05" font-size="3.82" fill="#222" transform="rotate(0.05 490.60 196.05)" stroke="#222" stroke-width="0.122">TCGA-CR-7369</text>
<path d="M308.20 91.02L309.60 91.02M308.20 94.86L309.60 94.86M308.20 91.02L308.20 94.86M308.00 98.70L309.60 98.70M308.00 102.54L309.60 102.54M308.00 98.70L308.00 102.54M306.60 92.94L308.20 92.94M306.60 100.62L308.00 100.62M306.60 92.94L306.60 100.62M308.60 110.22L309.60 110.22M308.60 114.06L309.60 114.06M308.60 110.22L308.60 114.06M307.80 106.38L309.60 106.38M307.80 112.14L308.60 112.14M307.80 106.38L307.80 112.14M308.00 117.90L309.60 117.90M308.00 121.74L309.60 121.74M308.00 117.90L308.00 121.74M306.20 109.26L307.80 109.26M306.20 119.82L308.00 119.82M306.20 109.26L306.20 119.82M305.00 96.78L306.60 96.78M305.00 114.54L306.20 114.54M305.00 96.78L305.00 114.54M307.60 125.58L309.60 125.58M307.60 129.42L309.60 129.42M307.60 125.58L307.60 129.42M307.40 133.26L309.60 133.26M307.40 137.10L309.60 137.10M307.40 133.26L307.40 137.10M305.80 127.50L307.60 127.50M305.80 135.18L307.40 135.18M305.80 127.50L305.80 135.18M303.60 105.66L305.00 105.66M303.60 131.34L305.80 131.34M303.60 105.66L303.60 131.34M306.00 144.78L309.60 144.78M306.00 148.62L309.60 148.62M306.00 144.78L306.00 148.62M302.80 140.94L309.60 140.94M302.80 146.70L306.00 146.70M302.80 140.94L302.80 146.70M301.00 152.46L309.60 152.46M301.00 156.30L309.60 156.30M301.00 152.46L301.00 156.30M298.80 143.82L302.80 143.82M298.80 154.38L301.00 154.38M298.80 143.82L298.80 154.38M288.40 118.50L303.60 118.50M288.40 149.10L298.80 149.10M288.40 118.50L288.40 149.10M308.40 160.14L309.60 160.14M308.40 163.98L309.60 163.98M308.40 160.14L308.40 163.98M307.00 162.06L308.40 162.06M307.00 167.82L309.60 167.82M307.00 162.06L307.00 167.82M307.60 171.66L309.60 171.66M307.60 175.50L309.60 175.50M307.60 171.66L307.60 175.50M305.20 164.94L307.00 164.94M305.20 173.58L307.60 173.58M305.20 164.94L305.20 173.58M303.40 169.26L305.20 169.26M303.40 179.34L309.60 179.34M303.40 169.26L303.40 179.34M300.70 174.30L303.40 174.30M300.70 183.18L309.60 183.18M300.70 174.30L300.70 183.18M307.00 187.02L309.60 187.02M307.00 190.86L309.60 190.86M307.00 187.02L307.00 190.86M304.50 188.94L307.00 188.94M304.50 194.70L309.60 194.70M304.50 188.94L304.50 194.70M295.80 178.74L300.70 178.74M295.80 191.82L304.50 191.82M295.80 178.74L295.80 191.82M275.30 133.80L288.40 133.80M275.30 185.28L295.80 185.28M275.30 133.80L275.30 185.28" fill="none" stroke="#6e6e6e" stroke-width="0.55"/>
<text x="63.00" y="260.40" font-size="9.4" fill="#1a1a1a" transform="rotate(0.05 63.00 260.40)" stroke="#1a1a1a" stroke-width="0.25">T41</text>
<circle cx="146.50" cy="330.30" r="65.20" fill="none" stroke="#e6f0f8" stroke-width="0.5"/>
<circle cx="146.50" cy="330.30" r="61.00" fill="none" stroke="#cfe4f3" stroke-width="0.7"/>
<circle cx="146.50" cy="330.30" r="55.70" fill="none" stroke="#eeeeee" stroke-width="0.5"/>
<circle cx="146.50" cy="330.30" r="51.00" fill="none" stroke="#f0f0f0" stroke-width="0.5"/>
<circle cx="146.50" cy="330.30" r="47.00" fill="none" stroke="#f1f1f1" stroke-width="0.5"/>
<circle cx="146.50" cy="330.30" r="44.00" fill="none" stroke="#f3f3f3" stroke-width="0.5"/>
<path d="M154.24 403.89A74.00 74.00 0 1 1 220.50 330.95L216.40 330.91A69.90 69.90 0 1 0 153.81 399.82Z" fill="#d9a51f"/>
<path d="M153.76 399.42A69.50 69.50 0 1 1 201.27 287.51" fill="none" stroke="#111" stroke-width="1.2"/>
<path d="M197.14 281.40A70.40 70.40 0 0 1 203.45 288.92L202.00 289.98A68.60 68.60 0 0 0 195.85 282.65Z" fill="#111"/>
<path d="M203.04 287.69A70.80 70.80 0 0 1 217.30 330.92L214.10 330.89A67.60 67.60 0 0 0 200.49 289.62Z" fill="#111"/>
<path d="M220.95 333.16A74.50 74.50 0 0 1 156.87 404.07L156.30 400.01A70.40 70.40 0 0 0 216.85 333.00Z" fill="#e8141c"/>
<path d="M217.05 333.01A70.60 70.60 0 0 1 156.33 400.21L155.85 396.85A67.20 67.20 0 0 0 213.65 332.88Z" fill="#111"/>
<path d="M216.22 333.71A69.80 69.80 0 0 1 216.11 335.41L214.32 335.28A68.00 68.00 0 0 0 214.42 333.62Z" fill="#d8d8d8"/>
<path d="M214.43 346.36A69.80 69.80 0 0 1 214.02 348.01L212.27 347.56A68.00 68.00 0 0 0 212.68 345.94Z" fill="#d8d8d8"/>
<path d="M207.37 364.46A69.80 69.80 0 0 1 206.52 365.94L204.97 365.02A68.00 68.00 0 0 0 205.80 363.58Z" fill="#d8d8d8"/>
<path d="M197.71 377.73A69.80 69.80 0 0 1 196.54 378.96L195.25 377.71A68.00 68.00 0 0 0 196.39 376.50Z" fill="#d8d8d8"/>
<path d="M194.72 380.76A69.80 69.80 0 0 1 193.48 381.93L192.26 380.59A68.00 68.00 0 0 0 193.48 379.46Z" fill="#d8d8d8"/>
<path d="M187.23 386.98A69.80 69.80 0 0 1 185.83 387.96L184.82 386.47A68.00 68.00 0 0 0 186.18 385.52Z" fill="#d8d8d8"/>
<path d="M184.72 388.71A69.80 69.80 0 0 1 183.28 389.62L182.33 388.09A68.00 68.00 0 0 0 183.73 387.20Z" fill="#d8d8d8"/>
<path d="M159.46 398.89A69.80 69.80 0 0 1 157.78 399.18L157.49 397.41A68.00 68.00 0 0 0 159.13 397.12Z" fill="#d8d8d8"/>
<line x1="213.26" y1="332.63" x2="221.35" y2="332.91" stroke="#f4f4f4" stroke-width="0.9"/>
<line x1="183.56" y1="385.87" x2="188.06" y2="392.61" stroke="#f4f4f4" stroke-width="0.9"/>
<line x1="155.45" y1="396.50" x2="156.54" y2="404.52" stroke="#f4f4f4" stroke-width="0.9"/>
<path d="M200.47 293.90A65.10 65.10 0 0 1 211.60 329.96L203.70 330.00A57.20 57.20 0 0 0 193.92 298.31Z" fill="#86c3ea"/>
<path d="M211.50 333.93A65.10 65.10 0 0 1 211.19 337.56L203.74 336.72A57.60 57.60 0 0 0 204.01 333.52Z" fill="#86c3ea"/>
<path d="M182.62 383.86A64.60 64.60 0 0 1 171.74 389.76L169.01 383.32A57.60 57.60 0 0 0 178.71 378.05Z" fill="#86c3ea"/>
<path d="M80.93 328.47A65.60 65.60 0 0 1 80.98 326.98L87.28 327.30A59.30 59.30 0 0 0 87.22 328.64Z" fill="#9cc7e2"/>
<path d="M85.98 354.02A65.00 65.00 0 0 1 85.46 352.64L91.28 350.51A58.80 58.80 0 0 0 91.75 351.75Z" fill="#9cd0e0"/>
<circle cx="76.75" cy="327.62" r="0.9" fill="#111"/>
<circle cx="81.12" cy="354.74" r="0.9" fill="#111"/>
<line x1="104.53" y1="328.69" x2="100.93" y2="328.55" stroke="#6b5a66" stroke-width="0.9"/>
<line x1="96.04" y1="328.36" x2="93.04" y2="328.25" stroke="#f0d9d9" stroke-width="0.7"/>
<path d="M146.50 384.30A54.00 54.00 0 0 1 101.73 360.50" fill="none" stroke="#f1ecc0" stroke-width="0.8"/>
<path d="M141.53 377.54A47.50 47.50 0 0 1 105.36 354.05" fill="none" stroke="#f3ead0" stroke-width="0.7"/>
<path d="M193.30 305.42A53.00 53.00 0 0 1 199.43 327.53" fill="none" stroke="#e6c9a0" stroke-width="0.7"/>
<path d="M141.27 380.03A50.00 50.00 0 0 1 120.00 372.70" fill="none" stroke="#ecd9a8" stroke-width="0.6"/>
<path d="M188.67 334.73A42.40 42.40 0 0 1 170.21 365.45" fill="none" stroke="#a8787a" stroke-width="1.0" stroke-dasharray="1.1 0.5"/>
<circle cx="146.50" cy="330.30" r="28.10" fill="none" stroke="#e1e6e1" stroke-width="18.8"/>
<circle cx="146.50" cy="330.30" r="28.40" fill="none" stroke="#dedede" stroke-width="11.6"/>
<circle cx="146.50" cy="330.30" r="34.50" fill="none" stroke="#cdd8cd" stroke-width="0.6"/>
<circle cx="146.50" cy="330.30" r="22.40" fill="none" stroke="#cdd8cd" stroke-width="0.6"/>
<path d="M139.38 370.68A41.00 41.00 0 1 1 181.27 308.57" fill="none" stroke="#6a5870" stroke-width="0.7"/>
<path d="M186.88 323.18A41.00 41.00 0 0 1 167.00 365.81" fill="none" stroke="#6a5870" stroke-width="0.6"/>
<path d="M154.71 368.94A39.50 39.50 0 1 1 180.71 310.55" fill="none" stroke="#222" stroke-width="0.6"/>
<path d="M185.62 324.80A39.50 39.50 0 0 1 167.43 363.80" fill="none" stroke="#222" stroke-width="0.5"/>
<path d="M179.19 307.24L182.32 306.50L187.21 304.86L191.78 303.73L187.69 307.66L191.42 307.22L187.98 310.42L190.81 310.57L188.57 312.96L193.24 312.54L189.00 315.50L191.30 316.09L188.80 318.17L192.99 318.36L188.92 320.66L190.64 321.56L187.91 323.30L189.08 324.32L186.25 325.84" fill="none" stroke="#1a1a1a" stroke-width="0.65" stroke-linejoin="round"/>
<path d="M168.01 363.43L170.53 369.52L172.68 377.53L171.47 379.31L167.84 372.18L164.79 366.99L163.58 368.67L165.25 375.57L165.74 379.15L161.86 373.66L158.05 368.07" fill="none" stroke="#1a1a1a" stroke-width="0.6" stroke-linejoin="round"/>
<path d="M167.15 366.07A41.30 41.30 0 0 1 140.75 371.20" fill="none" stroke="#6a5870" stroke-width="0.6"/>
<path d="M175.01 330.30L175.15 331.00L175.86 331.74L175.44 332.43L175.23 333.12L175.20 333.82L174.42 334.42L174.48 335.13L174.66 335.88L174.99 336.67L173.89 337.13L173.52 337.74L172.84 338.25L173.58 339.20L173.72 339.99L172.59 340.32L173.38 341.38L173.70 342.29L173.24 342.88L172.77 343.45L171.62 343.66L170.58 343.87L170.61 344.67L169.76 344.95L169.30 345.45L168.95 346.02L168.26 346.34L168.31 347.21L168.11 347.93L168.36 349.04L167.86 349.54L167.53 350.19L166.94 350.60L166.58 351.24L165.90 351.55L165.07 351.66L165.19 352.89L165.00 353.82L164.47 354.33L163.77 354.61L162.72 354.34L161.78 354.19L161.04 354.31L160.17 354.17L160.02 355.30L159.36 355.53L159.05 356.50L158.25 356.45L157.92 357.46L157.35 357.99L156.21 356.98L155.41 356.79L155.06 357.95L154.33 357.97L153.85 358.93L153.02 358.55L152.14 357.79L151.55 358.36L150.94 359.01L150.16 358.52L149.40 357.92L148.73 358.01L148.12 359.21L147.42 359.56L146.70 358.62L146.01 358.27L145.35 357.78L144.70 357.39L143.94 358.45L143.30 357.93L142.57 358.26L141.88 358.21L141.28 357.66L140.46 358.23L139.94 357.44L139.14 357.78L138.65 356.99L137.94 356.95L137.38 356.47L136.77 356.19L135.68 357.08L134.86 357.20L134.47 356.33L133.55 356.62L133.29 355.58L132.75 355.11L131.78 355.40L131.14 355.08L131.05 353.91L129.89 354.38L129.76 353.33L129.44 352.61L128.46 352.73L128.17 351.99L127.83 351.32L127.72 350.44L127.45 349.75L126.48 349.77L126.15 349.14L125.30 348.99L124.92 348.40L124.42 347.93L123.23 347.97L123.03 347.23L122.62 346.65L121.79 346.35L122.19 345.26L122.35 344.36L121.14 344.24L120.42 343.82L120.78 342.84L120.99 341.98L120.12 341.61L119.15 341.24L119.73 340.26L118.71 339.87L118.13 339.30L118.19 338.53L118.47 337.71L119.15 336.82L119.62 336.01L118.23 335.59L118.64 334.81L118.02 334.20L118.43 333.45L117.64 332.83L117.56 332.12L118.05 331.39L118.57 330.69L117.90 330.00L118.69 329.33L118.90 328.66L118.47 327.95L117.71 327.17L117.74 326.46L118.39 325.85L117.72 325.02L118.64 324.48L119.58 323.99L119.78 323.34L119.67 322.61L120.36 322.11L120.66 321.50L120.62 320.78L120.36 319.95L121.05 319.50L121.20 318.82L120.56 317.76L120.18 316.77L120.62 316.19L120.98 315.56L121.51 315.05L122.66 314.94L123.66 314.78L124.43 314.50L123.77 313.17L123.87 312.36L123.76 311.35L125.18 311.63L125.38 310.88L125.91 310.42L126.12 309.63L126.97 309.50L126.87 308.34L128.13 308.71L128.54 308.13L128.81 307.33L129.05 306.45L129.61 306.00L130.22 305.62L130.76 305.11L131.22 304.47L132.26 304.83L132.84 304.40L133.28 303.67L133.84 303.16L134.79 303.49L135.35 302.97L135.92 302.44L136.72 302.52L137.43 302.40L138.26 302.67L138.93 302.42L139.59 302.17L140.47 302.89L141.06 302.29L141.59 301.27L142.25 300.81L142.98 300.78L143.76 301.35L144.46 301.06L145.18 301.16L145.90 301.47L146.60 300.95L147.29 302.01L148.01 301.47L148.64 302.47L149.37 302.07L150.06 302.10L150.69 302.60L151.47 302.13L152.15 302.27L152.88 302.21L153.73 301.72L154.21 302.67L154.62 303.74L155.26 303.97L156.12 303.57L156.61 304.24L157.11 304.81L158.19 304.05L158.93 304.13L159.45 304.67L160.38 304.41L160.70 305.30L161.43 305.45L161.66 306.41L162.24 306.79L163.20 306.63L164.13 306.56L164.89 306.77L165.00 307.77L165.50 308.29L165.68 309.14L165.75 310.08L166.43 310.37L167.47 310.33L168.31 310.52L168.82 311.03L169.64 311.30L169.35 312.44L169.18 313.46L169.62 313.99L169.78 314.72L169.92 315.44L170.44 315.92L171.21 316.26L171.60 316.84L171.67 317.59L172.67 317.87L173.62 318.22L173.43 319.09L172.77 320.11L172.38 320.98L173.65 321.27L173.07 322.18L173.94 322.64L174.28 323.27L174.09 324.03L174.87 324.58L174.01 325.45L173.74 326.18L174.17 326.80L173.68 327.54L174.84 328.12L174.48 328.83L174.10 329.53L173.69 330.21Z" fill="none" stroke="#161616" stroke-width="0.95" stroke-linejoin="round"/>
<circle cx="146.5" cy="330.3" r="18.6" fill="#fff"/>
<path d="M129.01 325.28Q146.45 330.43 162.99 337.99" fill="none" stroke="#d6262c" stroke-width="0.9" opacity="0.95"/>
<path d="M129.40 324.08Q146.37 330.56 161.93 339.94" fill="none" stroke="#d6262c" stroke-width="0.8" opacity="0.9"/>
<path d="M128.48 332.83Q146.13 331.67 160.84 341.51" fill="none" stroke="#d6262c" stroke-width="0.8" opacity="0.9"/>
<path d="M128.34 331.57Q145.87 332.04 159.59 342.94" fill="none" stroke="#d6262c" stroke-width="0.7" opacity="0.85"/>
<path d="M128.70 334.08Q145.58 332.96 158.20 344.24" fill="none" stroke="#d6262c" stroke-width="0.6" opacity="0.8"/>
<path d="M130.01 322.61Q146.49 330.32 162.57 338.84" fill="none" stroke="#d6262c" stroke-width="0.6" opacity="0.8"/>
<path d="M160.03 318.12Q150.46 330.93 155.60 346.06" fill="none" stroke="#d6262c" stroke-width="0.8" opacity="0.9"/>
<path d="M160.84 319.09Q150.85 331.38 153.90 346.93" fill="none" stroke="#d6262c" stroke-width="0.6" opacity="0.8"/>
<path d="M140.28 347.40Q149.22 336.13 163.60 336.52" fill="none" stroke="#d6262c" stroke-width="0.4" opacity="0.5"/>
<path d="M131.59 319.86Q146.49 330.31 161.22 341.00" fill="none" stroke="#d6262c" stroke-width="0.5" opacity="0.7"/>
<text x="235.10" y="279.50" font-size="6.3" text-anchor="middle" font-style="italic" fill="#111" transform="rotate(-26.60 235.10 279.50)" dy="2.24" stroke="#111" stroke-width="0.22">TTC33</text>
<text x="242.00" y="344.20" font-size="6.3" text-anchor="middle" fill="#111" transform="rotate(10.00 242.00 344.20)" dy="2.24" stroke="#111" stroke-width="0.22">L2</text>
<text x="236.20" y="366.00" font-size="6.3" text-anchor="middle" fill="#111" transform="rotate(20.00 236.20 366.00)" dy="2.24" stroke="#111" stroke-width="0.22">L1</text>
<text x="216.30" y="398.40" font-size="6.3" text-anchor="middle" fill="#111" transform="rotate(43.00 216.30 398.40)" dy="2.24" stroke="#111" stroke-width="0.22">E6</text>
<text x="210.20" y="404.00" font-size="6.3" text-anchor="middle" fill="#111" transform="rotate(40.00 210.20 404.00)" dy="2.24" stroke="#111" stroke-width="0.22">E7</text>
<text x="185.80" y="419.30" font-size="6.3" text-anchor="middle" fill="#111" transform="rotate(59.00 185.80 419.30)" dy="2.24" stroke="#111" stroke-width="0.22">E1</text>
<text x="164.80" y="425.90" font-size="6.3" text-anchor="middle" fill="#111" transform="rotate(76.00 164.80 425.90)" dy="2.24" stroke="#111" stroke-width="0.22">E2</text>
<text x="223.60" y="331.40" font-size="3.4" fill="#8a8a8a" transform="rotate(0.05 223.60 331.40)" stroke="#8a8a8a" stroke-width="0.109">AC113518</text>
<text x="223.60" y="336.20" font-size="3.4" fill="#8a8a8a" transform="rotate(0.05 223.60 336.20)" stroke="#8a8a8a" stroke-width="0.109">59501</text>
<line x1="219.80" y1="330.20" x2="223.00" y2="330.20" stroke="#999" stroke-width="0.4"/>
<line x1="219.80" y1="335.00" x2="223.00" y2="335.00" stroke="#999" stroke-width="0.4"/>
<text x="153.65" y="405.96" font-size="3.4" fill="#a6a6a6" transform="rotate(84.60 153.65 405.96)" stroke="#a6a6a6" stroke-width="0.109">37367869</text>
<text x="150.21" y="406.21" font-size="3.4" fill="#c4c4c4" transform="rotate(87.20 150.21 406.21)" stroke="#c4c4c4" stroke-width="0.109">2837 7904</text>
<text x="192.77" y="390.59" font-size="3.4" fill="#c0c8d8" transform="rotate(52.50 192.77 390.59)" stroke="#c0c8d8" stroke-width="0.109">7904</text>
<text x="188.45" y="393.68" font-size="3.4" fill="#a6a6a6" transform="rotate(56.50 188.45 393.68)" stroke="#a6a6a6" stroke-width="0.109">880</text>
<rect x="18.10" y="380.70" width="11.80" height="3.90" fill="#d9a51f"/>
<rect x="18.10" y="389.40" width="11.80" height="3.90" fill="#e8141c"/>
<text x="34.80" y="384.60" font-size="5.8" fill="#111" transform="rotate(0.05 34.80 384.60)" stroke="#111" stroke-width="0.186">chr5</text>
<text x="34.80" y="393.20" font-size="5.8" fill="#111" transform="rotate(0.05 34.80 393.20)" stroke="#111" stroke-width="0.186">hpv16ref_1</text>
<text x="297.30" y="257.80" font-size="10.05" fill="#1a1a1a" transform="rotate(0.05 297.30 257.80)" stroke="#1a1a1a" stroke-width="0.2">TCGA-CV-</text>
<text x="297.30" y="269.70" font-size="10.05" fill="#1a1a1a" transform="rotate(0.05 297.30 269.70)" stroke="#1a1a1a" stroke-width="0.2">5443</text>
<circle cx="405.00" cy="333.00" r="64.50" fill="none" stroke="#f3f3f3" stroke-width="0.5"/>
<circle cx="405.00" cy="333.00" r="60.50" fill="none" stroke="#eef0f0" stroke-width="0.5"/>
<circle cx="405.00" cy="333.00" r="56.50" fill="none" stroke="#f1f1f1" stroke-width="0.5"/>
<circle cx="405.00" cy="333.00" r="52.50" fill="none" stroke="#f2f2f2" stroke-width="0.5"/>
<path d="M334.24 352.49A73.40 73.40 0 1 1 360.22 391.15L364.55 385.53A66.30 66.30 0 1 0 341.08 350.61Z" fill="#fbfb1e"/>
<path d="M335.45 351.63A72.00 72.00 0 0 1 366.85 271.94" fill="none" stroke="#111" stroke-width="1.1"/>
<path d="M436.36 274.02A66.80 66.80 0 0 1 471.79 331.83" fill="none" stroke="#111" stroke-width="1.1"/>
<path d="M397.35 405.80A73.20 73.20 0 0 1 381.17 402.21L382.21 399.19A70.00 70.00 0 0 0 397.68 402.62Z" fill="#111"/>
<path d="M382.67 397.86A68.60 68.60 0 0 1 363.72 387.79" fill="none" stroke="#111" stroke-width="1.0"/>
<path d="M336.95 361.05A73.60 73.60 0 0 1 334.32 353.53L335.95 353.06A71.90 71.90 0 0 0 338.53 360.40Z" fill="#e8141c"/>
<path d="M338.53 360.40A71.90 71.90 0 0 1 335.95 353.06L337.59 352.59A70.20 70.20 0 0 0 340.10 359.75Z" fill="#e8141c"/>
<path d="M341.80 371.88A74.20 74.20 0 0 1 336.90 362.47L339.84 361.20A71.00 71.00 0 0 0 344.53 370.20Z" fill="#111"/>
<path d="M344.53 370.20A71.00 71.00 0 0 1 339.84 361.20L342.78 359.93A67.80 67.80 0 0 0 347.25 368.53Z" fill="#e8141c"/>
<path d="M350.35 382.90A74.00 74.00 0 0 1 342.66 372.87L345.61 370.98A70.50 70.50 0 0 0 352.94 380.54Z" fill="#e8141c"/>
<path d="M352.94 380.54A70.50 70.50 0 0 1 345.61 370.98L348.56 369.10A67.00 67.00 0 0 0 355.52 378.18Z" fill="#111"/>
<path d="M358.91 391.15A74.20 74.20 0 0 1 351.09 383.98L353.41 381.78A71.00 71.00 0 0 0 360.90 388.64Z" fill="#e8141c"/>
<path d="M360.90 388.64A71.00 71.00 0 0 1 353.41 381.78L355.74 379.58A67.80 67.80 0 0 0 362.89 386.13Z" fill="#b01216"/>
<path d="M362.70 388.52A69.80 69.80 0 0 1 361.74 387.78L363.47 385.58A67.00 67.00 0 0 0 364.40 386.30Z" fill="#bdbdbd"/>
<path d="M354.29 380.96A69.80 69.80 0 0 1 353.46 380.07L355.52 378.18A67.00 67.00 0 0 0 356.32 379.03Z" fill="#bdbdbd"/>
<path d="M346.20 370.61A69.80 69.80 0 0 1 345.55 369.57L347.93 368.11A67.00 67.00 0 0 0 348.56 369.10Z" fill="#bdbdbd"/>
<path d="M340.94 360.72A69.80 69.80 0 0 1 340.47 359.60L343.06 358.53A67.00 67.00 0 0 0 343.51 359.61Z" fill="#bdbdbd"/>
<path d="M338.01 352.59A69.80 69.80 0 0 1 337.67 351.42L340.37 350.68A67.00 67.00 0 0 0 340.69 351.80Z" fill="#bdbdbd"/>
<circle cx="367.28" cy="271.44" r="0.9" fill="#444"/>
<circle cx="435.84" cy="273.75" r="0.9" fill="#444"/>
<circle cx="471.80" cy="332.42" r="0.9" fill="#444"/>
<circle cx="333.39" cy="342.17" r="0.9" fill="#444"/>
<circle cx="335.60" cy="313.10" r="0.9" fill="#444"/>
<circle cx="405.00" cy="333.00" r="31.50" fill="none" stroke="#e1e6e1" stroke-width="21.0"/>
<circle cx="405.00" cy="333.00" r="32.00" fill="none" stroke="#dedede" stroke-width="13.0"/>
<circle cx="405.00" cy="333.00" r="38.90" fill="none" stroke="#cdd8cd" stroke-width="0.6"/>
<circle cx="405.00" cy="333.00" r="25.20" fill="none" stroke="#cdd8cd" stroke-width="0.6"/>
<path d="M360.68 350.91A47.80 47.80 0 1 1 406.67 380.77" fill="none" stroke="#7a6a80" stroke-width="0.6"/>
<path d="M359.80 340.97A45.90 45.90 0 1 1 403.40 378.87" fill="none" stroke="#222" stroke-width="0.6"/>
<path d="M387.81 375.56A45.90 45.90 0 0 1 361.87 348.70" fill="none" stroke="#222" stroke-width="0.5" stroke-dasharray="3 1.6"/>
<path d="M419.47 282.53A52.50 52.50 0 0 1 434.36 289.48" fill="none" stroke="#e0c48c" stroke-width="0.9"/>
<path d="M422.61 387.21A57.00 57.00 0 0 1 378.24 383.33" fill="none" stroke="#dcc888" stroke-width="0.9"/>
<path d="M435.50 385.83A61.00 61.00 0 0 1 394.41 393.07" fill="none" stroke="#f4efc4" stroke-width="0.7"/>
<path d="M347.32 316.46A60.00 60.00 0 0 1 354.12 301.20" fill="none" stroke="#efe7b2" stroke-width="0.7"/>
<path d="M383.65 374.19A46.40 46.40 0 0 1 381.38 372.94" fill="none" stroke="#1a1a1a" stroke-width="1.25"/>
<path d="M382.27 376.86A49.40 49.40 0 0 1 379.85 375.52" fill="none" stroke="#7a5a30" stroke-width="1.15"/>
<path d="M380.14 372.18A46.40 46.40 0 0 1 377.99 370.73" fill="none" stroke="#1a1a1a" stroke-width="1.25"/>
<path d="M378.53 374.71A49.40 49.40 0 0 1 376.24 373.17" fill="none" stroke="#2a2a2a" stroke-width="1.15"/>
<line x1="380.57" y1="371.50" x2="377.37" y2="375.87" stroke="#1a1a1a" stroke-width="0.7"/>
<path d="M376.82 369.86A46.40 46.40 0 0 1 374.80 368.23" fill="none" stroke="#1a1a1a" stroke-width="1.25"/>
<path d="M375.00 372.24A49.40 49.40 0 0 1 372.85 370.51" fill="none" stroke="#2a2a2a" stroke-width="1.15"/>
<path d="M373.71 367.26A46.40 46.40 0 0 1 371.85 365.46" fill="none" stroke="#1a1a1a" stroke-width="1.25"/>
<path d="M371.69 369.48A49.40 49.40 0 0 1 369.71 367.56" fill="none" stroke="#7a5a30" stroke-width="1.15"/>
<path d="M370.85 364.41A46.40 46.40 0 0 1 369.15 362.45" fill="none" stroke="#1a1a1a" stroke-width="1.25"/>
<path d="M368.64 366.44A49.40 49.40 0 0 1 366.83 364.36" fill="none" stroke="#2a2a2a" stroke-width="1.15"/>
<line x1="371.43" y1="363.87" x2="367.22" y2="367.26" stroke="#1a1a1a" stroke-width="0.7"/>
<path d="M368.24 361.31A46.40 46.40 0 0 1 366.71 359.21" fill="none" stroke="#1a1a1a" stroke-width="1.25"/>
<path d="M365.86 363.14A49.40 49.40 0 0 1 364.24 360.91" fill="none" stroke="#2a2a2a" stroke-width="1.15"/>
<path d="M365.91 358.00A46.40 46.40 0 0 1 364.58 355.78" fill="none" stroke="#1a1a1a" stroke-width="1.25"/>
<path d="M363.38 359.62A49.40 49.40 0 0 1 361.96 357.25" fill="none" stroke="#7a5a30" stroke-width="1.15"/>
<path d="M363.88 354.50A46.40 46.40 0 0 1 362.74 352.17" fill="none" stroke="#1a1a1a" stroke-width="1.25"/>
<path d="M361.22 355.89A49.40 49.40 0 0 1 360.01 353.41" fill="none" stroke="#2a2a2a" stroke-width="1.15"/>
<line x1="364.59" y1="354.13" x2="359.64" y2="356.31" stroke="#1a1a1a" stroke-width="0.7"/>
<path d="M362.16 350.83A46.40 46.40 0 0 1 361.23 348.41" fill="none" stroke="#1a1a1a" stroke-width="1.25"/>
<path d="M359.39 351.98A49.40 49.40 0 0 1 358.40 349.41" fill="none" stroke="#2a2a2a" stroke-width="1.15"/>
<path d="M360.77 347.03A46.40 46.40 0 0 1 360.06 344.54" fill="none" stroke="#1a1a1a" stroke-width="1.25"/>
<path d="M357.91 347.94A49.40 49.40 0 0 1 357.15 345.29" fill="none" stroke="#7a5a30" stroke-width="1.15"/>
<path d="M359.72 343.12A46.40 46.40 0 0 1 359.22 340.58" fill="none" stroke="#1a1a1a" stroke-width="1.25"/>
<path d="M356.79 343.78A49.40 49.40 0 0 1 356.26 341.07" fill="none" stroke="#2a2a2a" stroke-width="1.15"/>
<line x1="360.50" y1="342.95" x2="355.15" y2="343.78" stroke="#1a1a1a" stroke-width="0.7"/>
<path d="M386.33 374.93L387.98 377.35L389.38 377.12L390.12 380.21L392.17 379.25L393.21 382.10L395.23 381.02L396.14 383.23L397.63 389.72L400.74 379.81L403.40 378.87" fill="none" stroke="#1a1a1a" stroke-width="0.65" stroke-linejoin="round"/>
<path d="M370.49 341.60L369.82 340.93L369.45 340.17L370.61 339.13L370.37 338.36L370.49 337.54L370.34 336.76L370.95 335.92L371.20 335.13L370.89 334.37L371.10 333.59L370.82 332.82L371.44 332.06L371.72 331.31L370.80 330.49L370.81 329.71L370.69 328.91L370.28 328.06L370.76 327.33L371.64 326.70L370.96 325.76L370.98 324.96L370.96 324.13L371.10 323.34L370.69 322.38L371.60 321.82L371.58 320.97L372.35 320.40L372.60 319.64L372.73 318.84L373.53 318.32L374.51 317.93L374.62 317.12L374.46 316.14L374.74 315.39L375.30 314.80L375.52 314.00L376.52 313.72L377.30 313.32L377.75 312.69L377.51 311.52L378.46 311.27L379.33 311.00L380.08 310.64L380.81 310.29L381.16 309.57L381.22 308.55L381.20 307.39L382.03 307.13L382.72 306.73L383.48 306.42L384.15 306.03L384.31 304.93L384.91 304.42L385.84 304.38L386.80 304.43L386.99 303.27L387.48 302.53L387.96 301.74L389.04 302.07L389.71 301.64L390.12 300.65L390.92 300.47L391.46 299.65L392.60 300.36L393.07 299.32L394.21 300.17L394.97 299.99L395.92 300.48L396.42 299.34L397.10 298.80L397.73 297.91L398.51 297.62L399.26 297.15L400.14 297.56L400.89 296.97L401.73 297.02L402.60 297.76L403.37 297.07L404.20 297.73L405.00 298.47L405.77 299.13L406.55 298.85L407.30 299.19L408.17 298.11L409.05 297.48L409.73 298.46L410.40 299.31L411.22 299.12L411.89 299.71L412.74 299.49L413.67 298.97L414.29 299.73L415.03 299.98L416.04 299.42L416.69 299.98L417.31 300.60L418.33 300.18L419.19 300.20L420.07 300.23L420.74 300.73L421.19 301.63L421.97 301.88L422.84 301.98L423.46 302.51L423.72 303.62L424.17 304.37L424.80 304.83L425.81 304.78L426.44 305.26L427.06 305.76L427.98 305.90L427.93 307.17L428.74 307.45L429.08 308.23L429.79 308.64L430.79 308.78L430.82 309.83L431.99 309.87L431.69 311.15L432.36 311.62L432.93 312.18L432.99 313.11L433.68 313.58L434.12 314.23L434.52 314.91L435.32 315.35L434.83 316.53L435.26 317.18L436.31 317.53L436.02 318.53L437.16 318.88L436.86 319.87L437.58 320.43L437.26 321.39L437.62 322.08L437.88 322.82L437.53 323.73L438.45 324.29L438.70 325.03L439.27 325.72L439.40 326.50L439.56 327.28L439.63 328.07L439.30 328.91L440.20 329.61L439.30 330.48L440.19 331.22L440.70 332.00L440.34 332.81L440.62 333.62L440.58 334.43L440.40 335.23L439.70 335.97L439.29 336.73L439.05 337.48L438.77 338.23L439.70 339.18L439.10 339.88L438.74 340.60L438.50 341.35L438.96 342.29L438.55 343.00L438.32 343.76L437.57 344.34L437.05 344.98L436.30 345.52L435.94 346.20L435.67 346.91L436.32 348.07L435.99 348.79L435.01 349.16L434.83 349.94L434.02 350.37L434.05 351.29L433.70 351.99L433.92 353.10L432.97 353.39L433.06 354.45L432.05 354.67L432.26 355.87L431.68 356.44L430.32 356.29L430.30 357.35L429.37 357.54L428.70 357.97L427.80 358.14L427.84 359.37L426.75 359.29L426.58 360.33L425.84 360.65L425.43 361.44L424.52 361.51L423.51 361.39L423.45 362.75L422.87 363.33L421.80 363.07L421.59 364.32L421.09 365.13L419.92 364.56L418.83 364.06L418.32 364.84L417.40 364.64L416.93 365.61L416.18 365.85L415.56 366.49L414.80 366.72L414.12 367.28L413.41 367.78L412.58 367.76L411.76 367.78L410.87 367.37L409.99 366.81L409.16 366.44L408.51 367.60L407.69 367.15L406.92 367.29L406.13 367.18L405.36 367.65L404.58 367.77L403.76 368.41L402.98 368.00L402.21 367.72L401.34 368.46L400.56 368.17L399.57 369.32L398.93 368.14L398.01 368.63L397.52 367.04L396.63 367.35L395.93 366.86L395.26 366.29L394.74 365.35L394.00 365.12L393.20 365.06L392.17 365.56L391.41 365.34L390.78 364.78L390.27 364.03L389.63 363.55L388.69 363.68L388.03 363.23L387.62 362.38L386.52 362.70L385.81 362.32L384.73 362.49L384.26 361.76" fill="none" stroke="#161616" stroke-width="0.95" stroke-linejoin="round"/>
<path d="M382.71 361.53L384.29 356.33L379.31 358.51L381.52 353.55L376.32 355.09L379.13 350.45L373.78 351.32L377.15 347.07L371.73 347.26L375.61 343.47L370.20 342.98" fill="none" stroke="#1a1a1a" stroke-width="0.95" stroke-linejoin="round"/>
<circle cx="405.0" cy="333.0" r="21.0" fill="#fff"/>
<path d="M386.04 324.95Q399.30 335.60 398.63 352.59" fill="none" stroke="#b4b4b4" stroke-width="0.8" opacity="0.9"/>
<path d="M385.52 326.29Q398.12 336.06 396.95 351.96" fill="none" stroke="#b4b4b4" stroke-width="0.6" opacity="0.9"/>
<path d="M384.45 334.44Q399.75 337.25 399.32 352.80" fill="none" stroke="#b4b4b4" stroke-width="0.8" opacity="0.9"/>
<path d="M384.60 335.87Q398.67 337.94 397.28 352.10" fill="none" stroke="#b4b4b4" stroke-width="0.6" opacity="0.9"/>
<path d="M386.65 323.65Q394.37 331.41 384.71 336.58" fill="none" stroke="#b4b4b4" stroke-width="0.6" opacity="0.9"/>
<path d="M395.33 351.19Q402.91 338.75 400.72 353.15" fill="none" stroke="#b4b4b4" stroke-width="0.6" opacity="0.9"/>
<text x="309.60" y="295.00" font-size="6.2" text-anchor="middle" font-style="italic" fill="#111" transform="rotate(25.00 309.60 295.00)" dy="2.20" stroke="#111" stroke-width="0.22">PD-L1</text>
<text x="508.00" y="317.60" font-size="6.2" text-anchor="middle" font-style="italic" fill="#111" transform="rotate(-10.00 508.00 317.60)" dy="2.20" stroke="#111" stroke-width="0.22">PLGRKT</text>
<text x="368.60" y="422.00" font-size="6.2" text-anchor="middle" font-style="italic" fill="#111" transform="rotate(-60.00 368.60 422.00)" dy="2.20" stroke="#111" stroke-width="0.22">PD-L1</text>
<text x="320.00" y="378.60" font-size="6.0" text-anchor="middle" fill="#111" transform="rotate(-24.00 320.00 378.60)" dy="2.13" stroke="#111" stroke-width="0.22">E1</text>
<text x="328.40" y="391.20" font-size="6.0" text-anchor="middle" fill="#111" transform="rotate(-26.00 328.40 391.20)" dy="2.13" stroke="#111" stroke-width="0.22">E1</text>
<text x="312.40" y="363.60" font-size="4.6" text-anchor="middle" fill="#111" transform="rotate(-72.00 312.40 363.60)" dy="1.63" stroke="#111" stroke-width="0.15">E7</text>
<text x="316.60" y="362.40" font-size="4.6" text-anchor="middle" fill="#111" transform="rotate(-72.00 316.60 362.40)" dy="1.63" stroke="#111" stroke-width="0.15">E6</text>
<text x="337.40" y="404.00" font-size="4.6" text-anchor="middle" fill="#111" transform="rotate(-60.00 337.40 404.00)" dy="1.63" stroke="#111" stroke-width="0.15">E2</text>
<text x="341.20" y="401.80" font-size="4.6" text-anchor="middle" fill="#111" transform="rotate(-60.00 341.20 401.80)" dy="1.63" stroke="#111" stroke-width="0.15">E5</text>
<text x="324.42" y="355.20" font-size="2.9" text-anchor="middle" fill="#a8a8a8" transform="rotate(-15.40 324.42 355.20)" dy="1.0" stroke="#a8a8a8" stroke-width="0.093">5309885</text>
<line x1="333.08" y1="352.81" x2="330.57" y2="353.50" stroke="#bbb" stroke-width="0.4"/>
<text x="328.23" y="359.43" font-size="2.9" text-anchor="middle" fill="#d9a8b0" transform="rotate(-19.00 328.23 359.43)" dy="1.0" stroke="#d9a8b0" stroke-width="0.093">7906</text>
<line x1="334.46" y1="357.29" x2="332.01" y2="358.13" stroke="#bbb" stroke-width="0.4"/>
<text x="330.67" y="363.64" font-size="2.9" text-anchor="middle" fill="#a8a8a8" transform="rotate(-22.40 330.67 363.64)" dy="1.0" stroke="#a8a8a8" stroke-width="0.093">226</text>
<line x1="336.03" y1="361.43" x2="333.63" y2="362.42" stroke="#bbb" stroke-width="0.4"/>
<text x="332.99" y="368.75" font-size="2.9" text-anchor="middle" fill="#d9a8b0" transform="rotate(-26.40 332.99 368.75)" dy="1.0" stroke="#d9a8b0" stroke-width="0.093">880</text>
<line x1="338.18" y1="366.17" x2="335.85" y2="367.33" stroke="#bbb" stroke-width="0.4"/>
<text x="335.55" y="375.06" font-size="2.9" text-anchor="middle" fill="#a8c8cc" transform="rotate(-31.20 335.55 375.06)" dy="1.0" stroke="#a8c8cc" stroke-width="0.093">3633</text>
<line x1="341.19" y1="371.64" x2="338.97" y2="372.99" stroke="#bbb" stroke-width="0.4"/>
<text x="338.49" y="379.57" font-size="2.9" text-anchor="middle" fill="#d9a8b0" transform="rotate(-35.00 338.49 379.57)" dy="1.0" stroke="#d9a8b0" stroke-width="0.093">2709</text>
<line x1="343.89" y1="375.79" x2="341.76" y2="377.28" stroke="#bbb" stroke-width="0.4"/>
<text x="342.35" y="383.37" font-size="2.9" text-anchor="middle" fill="#a8c8cc" transform="rotate(-38.80 342.35 383.37)" dy="1.0" stroke="#a8c8cc" stroke-width="0.093">409</text>
<line x1="346.86" y1="379.74" x2="344.84" y2="381.37" stroke="#bbb" stroke-width="0.4"/>
<text x="345.04" y="387.75" font-size="2.9" text-anchor="middle" fill="#a8a8a8" transform="rotate(-42.40 345.04 387.75)" dy="1.0" stroke="#a8a8a8" stroke-width="0.093">3358</text>
<line x1="349.91" y1="383.30" x2="347.99" y2="385.06" stroke="#bbb" stroke-width="0.4"/>
<text x="349.56" y="391.22" font-size="2.9" text-anchor="middle" fill="#b0b0b0" transform="rotate(-46.40 349.56 391.22)" dy="1.0" stroke="#b0b0b0" stroke-width="0.093">742</text>
<line x1="353.55" y1="387.02" x2="351.76" y2="388.91" stroke="#bbb" stroke-width="0.4"/>
<text x="353.76" y="394.94" font-size="2.9" text-anchor="middle" fill="#a8c8cc" transform="rotate(-50.40 353.76 394.94)" dy="1.0" stroke="#a8c8cc" stroke-width="0.093">526</text>
<line x1="357.45" y1="390.48" x2="355.79" y2="392.48" stroke="#bbb" stroke-width="0.4"/>
<text x="355.17" y="400.10" font-size="2.9" text-anchor="middle" fill="#a8a8a8" transform="rotate(-53.40 355.17 400.10)" dy="1.0" stroke="#a8a8a8" stroke-width="0.093">5310243</text>
<line x1="360.52" y1="392.89" x2="358.97" y2="394.98" stroke="#bbb" stroke-width="0.4"/>
<text x="480.20" y="334.10" font-size="3.6" fill="#8e8e8e" transform="rotate(0.05 480.20 334.10)" stroke="#8e8e8e" stroke-width="0.115">4435555</text>
<text x="480.20" y="338.50" font-size="3.6" fill="#8e8e8e" transform="rotate(0.05 480.20 338.50)" stroke="#8e8e8e" stroke-width="0.115">5309962</text>
<line x1="477.40" y1="332.90" x2="480.00" y2="332.90" stroke="#999" stroke-width="0.4"/>
<line x1="477.40" y1="337.30" x2="480.00" y2="337.30" stroke="#999" stroke-width="0.4"/>
<rect x="277.50" y="382.80" width="11.90" height="4.00" fill="#fbfb1e"/>
<rect x="277.50" y="391.20" width="11.90" height="4.20" fill="#e8141c"/>
<text x="294.20" y="386.60" font-size="5.8" fill="#111" transform="rotate(0.05 294.20 386.60)" stroke="#111" stroke-width="0.186">chr9</text>
<text x="294.20" y="395.30" font-size="5.8" fill="#111" transform="rotate(0.05 294.20 395.30)" stroke="#111" stroke-width="0.186">hpv16ref_1</text>
<rect x="61.80" y="438.70" width="17.10" height="6.80" fill="#d9a51f"/>
<line x1="61.80" y1="467.20" x2="78.90" y2="467.20" stroke="#111" stroke-width="0.7"/>
<text x="60.00" y="474.00" font-size="3.2" text-anchor="end" fill="#222" transform="rotate(0.05 60.00 474.00)" stroke="#222" stroke-width="0.102">3500.0</text>
<text x="81.20" y="474.00" font-size="3.2" fill="#222" transform="rotate(0.05 81.20 474.00)" stroke="#222" stroke-width="0.102">7.39</text>
<line x1="62.80" y1="472.90" x2="77.90" y2="472.90" stroke="#d6d6d6" stroke-width="0.4" stroke-dasharray="0.5 0.7"/>
<text x="60.00" y="482.90" font-size="3.2" text-anchor="end" fill="#222" transform="rotate(0.05 60.00 482.90)" stroke="#222" stroke-width="0.102">2625.0</text>
<text x="81.20" y="482.90" font-size="3.2" fill="#222" transform="rotate(0.05 81.20 482.90)" stroke="#222" stroke-width="0.102">5.26</text>
<line x1="62.80" y1="481.80" x2="77.90" y2="481.80" stroke="#d6d6d6" stroke-width="0.4" stroke-dasharray="0.5 0.7"/>
<text x="60.00" y="491.60" font-size="3.2" text-anchor="end" fill="#222" transform="rotate(0.05 60.00 491.60)" stroke="#222" stroke-width="0.102">1750.0</text>
<text x="81.20" y="491.60" font-size="3.2" fill="#222" transform="rotate(0.05 81.20 491.60)" stroke="#222" stroke-width="0.102">3.16</text>
<line x1="62.80" y1="490.50" x2="77.90" y2="490.50" stroke="#d6d6d6" stroke-width="0.4" stroke-dasharray="0.5 0.7"/>
<text x="60.00" y="500.30" font-size="3.2" text-anchor="end" fill="#222" transform="rotate(0.05 60.00 500.30)" stroke="#222" stroke-width="0.102">875.0</text>
<text x="81.20" y="500.30" font-size="3.2" fill="#222" transform="rotate(0.05 81.20 500.30)" stroke="#222" stroke-width="0.102">1.1</text>
<line x1="62.80" y1="499.20" x2="77.90" y2="499.20" stroke="#d6d6d6" stroke-width="0.4" stroke-dasharray="0.5 0.7"/>
<text x="60.00" y="509.20" font-size="3.2" text-anchor="end" fill="#222" transform="rotate(0.05 60.00 509.20)" stroke="#222" stroke-width="0.102">0.0</text>
<text x="81.20" y="509.20" font-size="3.2" fill="#222" transform="rotate(0.05 81.20 509.20)" stroke="#222" stroke-width="0.102">-1.0</text>
<line x1="62.80" y1="508.10" x2="77.90" y2="508.10" stroke="#d6d6d6" stroke-width="0.4" stroke-dasharray="0.5 0.7"/>
<rect x="61.80" y="514.50" width="17.10" height="40.70" fill="#e2e2e2"/>
<line x1="62.30" y1="519.70" x2="78.40" y2="519.70" stroke="#d4d4d4" stroke-width="0.4"/>
<line x1="62.30" y1="527.50" x2="78.40" y2="527.50" stroke="#d4d4d4" stroke-width="0.4"/>
<line x1="62.30" y1="534.80" x2="78.40" y2="534.80" stroke="#d4d4d4" stroke-width="0.4"/>
<line x1="62.30" y1="542.10" x2="78.40" y2="542.10" stroke="#d4d4d4" stroke-width="0.4"/>
<line x1="62.30" y1="549.20" x2="78.40" y2="549.20" stroke="#d4d4d4" stroke-width="0.4"/>
<line x1="62.30" y1="517.89" x2="78.40" y2="517.89" stroke="#dadada" stroke-width="0.3"/>
<line x1="62.30" y1="521.28" x2="78.40" y2="521.28" stroke="#dadada" stroke-width="0.3"/>
<line x1="62.30" y1="524.67" x2="78.40" y2="524.67" stroke="#dadada" stroke-width="0.3"/>
<line x1="62.30" y1="528.07" x2="78.40" y2="528.07" stroke="#dadada" stroke-width="0.3"/>
<line x1="62.30" y1="531.46" x2="78.40" y2="531.46" stroke="#dadada" stroke-width="0.3"/>
<line x1="62.30" y1="534.85" x2="78.40" y2="534.85" stroke="#dadada" stroke-width="0.3"/>
<line x1="62.30" y1="538.24" x2="78.40" y2="538.24" stroke="#dadada" stroke-width="0.3"/>
<line x1="62.30" y1="541.63" x2="78.40" y2="541.63" stroke="#dadada" stroke-width="0.3"/>
<line x1="62.30" y1="545.03" x2="78.40" y2="545.03" stroke="#dadada" stroke-width="0.3"/>
<line x1="62.30" y1="548.42" x2="78.40" y2="548.42" stroke="#dadada" stroke-width="0.3"/>
<line x1="62.30" y1="551.81" x2="78.40" y2="551.81" stroke="#dadada" stroke-width="0.3"/>
<line x1="61.80" y1="514.50" x2="78.90" y2="514.50" stroke="#111" stroke-width="0.8"/>
<text x="60.00" y="520.80" font-size="3.2" text-anchor="end" fill="#222" transform="rotate(0.05 60.00 520.80)" stroke="#222" stroke-width="0.102">300.0</text>
<text x="81.20" y="520.80" font-size="3.2" fill="#222" transform="rotate(0.05 81.20 520.80)" stroke="#222" stroke-width="0.102">300.0</text>
<text x="60.00" y="528.60" font-size="3.2" text-anchor="end" fill="#222" transform="rotate(0.05 60.00 528.60)" stroke="#222" stroke-width="0.102">225.0</text>
<text x="81.20" y="528.60" font-size="3.2" fill="#222" transform="rotate(0.05 81.20 528.60)" stroke="#222" stroke-width="0.102">225.0</text>
<text x="60.00" y="535.90" font-size="3.2" text-anchor="end" fill="#222" transform="rotate(0.05 60.00 535.90)" stroke="#222" stroke-width="0.102">150.0</text>
<text x="81.20" y="535.90" font-size="3.2" fill="#222" transform="rotate(0.05 81.20 535.90)" stroke="#222" stroke-width="0.102">150.0</text>
<text x="60.00" y="543.20" font-size="3.2" text-anchor="end" fill="#222" transform="rotate(0.05 60.00 543.20)" stroke="#222" stroke-width="0.102">75.0</text>
<text x="81.20" y="543.20" font-size="3.2" fill="#222" transform="rotate(0.05 81.20 543.20)" stroke="#222" stroke-width="0.102">75.0</text>
<text x="60.00" y="550.30" font-size="3.2" text-anchor="end" fill="#222" transform="rotate(0.05 60.00 550.30)" stroke="#222" stroke-width="0.102">0.0</text>
<text x="81.20" y="550.30" font-size="3.2" fill="#222" transform="rotate(0.05 81.20 550.30)" stroke="#222" stroke-width="0.102">0.0</text>
<rect x="32.70" y="474.50" width="11.70" height="32.00" fill="#000"/>
<text x="39.75" y="490.50" font-size="3.9" text-anchor="middle" font-weight="bold" fill="#fff" transform="rotate(-90.00 39.75 490.50)">Primary data</text>
<rect x="32.70" y="516.30" width="11.70" height="32.40" fill="#000"/>
<text x="39.75" y="532.50" font-size="3.9" text-anchor="middle" font-weight="bold" fill="#fff" transform="rotate(-90.00 39.75 532.50)">Primary data</text>
<rect x="95.80" y="471.80" width="12.00" height="38.10" fill="#ffa500" stroke="#f09a00" stroke-width="0.5"/>
<text x="100.60" y="490.85" font-size="3.8" text-anchor="middle" font-weight="bold" fill="#5a3c00" transform="rotate(90.00 100.60 490.85)" stroke="#5a3c00" stroke-width="0.046">Secondary data</text>
<rect x="95.80" y="516.30" width="12.00" height="37.70" fill="#8fe88f" stroke="#7fd87f" stroke-width="0.5"/>
<text x="100.60" y="535.15" font-size="3.8" text-anchor="middle" font-weight="bold" fill="#1c5a1c" transform="rotate(90.00 100.60 535.15)" stroke="#1c5a1c" stroke-width="0.046">Secondary data</text>
<rect x="436.30" y="456.30" width="16.30" height="5.80" fill="#fbfb1e"/>
<line x1="436.30" y1="462.60" x2="452.60" y2="462.60" stroke="#111" stroke-width="0.7"/>
<text x="434.50" y="468.80" font-size="3.2" text-anchor="end" fill="#222" transform="rotate(0.05 434.50 468.80)" stroke="#222" stroke-width="0.102">1500.0</text>
<text x="454.90" y="468.80" font-size="3.2" fill="#222" transform="rotate(0.05 454.90 468.80)" stroke="#222" stroke-width="0.102">7.52</text>
<line x1="437.30" y1="467.70" x2="451.60" y2="467.70" stroke="#d6d6d6" stroke-width="0.4" stroke-dasharray="0.5 0.7"/>
<text x="434.50" y="479.50" font-size="3.2" text-anchor="end" fill="#222" transform="rotate(0.05 434.50 479.50)" stroke="#222" stroke-width="0.102">1125.0</text>
<text x="454.90" y="479.50" font-size="3.2" fill="#222" transform="rotate(0.05 454.90 479.50)" stroke="#222" stroke-width="0.102">5.38</text>
<line x1="437.30" y1="478.40" x2="451.60" y2="478.40" stroke="#d6d6d6" stroke-width="0.4" stroke-dasharray="0.5 0.7"/>
<text x="434.50" y="490.00" font-size="3.2" text-anchor="end" fill="#222" transform="rotate(0.05 434.50 490.00)" stroke="#222" stroke-width="0.102">750.0</text>
<text x="454.90" y="490.00" font-size="3.2" fill="#222" transform="rotate(0.05 454.90 490.00)" stroke="#222" stroke-width="0.102">3.26</text>
<line x1="437.30" y1="488.90" x2="451.60" y2="488.90" stroke="#d6d6d6" stroke-width="0.4" stroke-dasharray="0.5 0.7"/>
<text x="434.50" y="500.70" font-size="3.2" text-anchor="end" fill="#222" transform="rotate(0.05 434.50 500.70)" stroke="#222" stroke-width="0.102">375.0</text>
<text x="454.90" y="500.70" font-size="3.2" fill="#222" transform="rotate(0.05 454.90 500.70)" stroke="#222" stroke-width="0.102">1.13</text>
<line x1="437.30" y1="499.60" x2="451.60" y2="499.60" stroke="#d6d6d6" stroke-width="0.4" stroke-dasharray="0.5 0.7"/>
<text x="434.50" y="511.00" font-size="3.2" text-anchor="end" fill="#222" transform="rotate(0.05 434.50 511.00)" stroke="#222" stroke-width="0.102">0.0</text>
<text x="454.90" y="511.00" font-size="3.2" fill="#222" transform="rotate(0.05 454.90 511.00)" stroke="#222" stroke-width="0.102">-1.0</text>
<line x1="437.30" y1="509.90" x2="451.60" y2="509.90" stroke="#d6d6d6" stroke-width="0.4" stroke-dasharray="0.5 0.7"/>
<rect x="436.30" y="515.50" width="16.30" height="47.00" fill="#e2e2e2"/>
<line x1="436.80" y1="520.70" x2="452.10" y2="520.70" stroke="#d4d4d4" stroke-width="0.4"/>
<line x1="436.80" y1="529.80" x2="452.10" y2="529.80" stroke="#d4d4d4" stroke-width="0.4"/>
<line x1="436.80" y1="538.90" x2="452.10" y2="538.90" stroke="#d4d4d4" stroke-width="0.4"/>
<line x1="436.80" y1="547.80" x2="452.10" y2="547.80" stroke="#d4d4d4" stroke-width="0.4"/>
<line x1="436.80" y1="556.70" x2="452.10" y2="556.70" stroke="#d4d4d4" stroke-width="0.4"/>
<line x1="436.80" y1="519.42" x2="452.10" y2="519.42" stroke="#dadada" stroke-width="0.3"/>
<line x1="436.80" y1="523.33" x2="452.10" y2="523.33" stroke="#dadada" stroke-width="0.3"/>
<line x1="436.80" y1="527.25" x2="452.10" y2="527.25" stroke="#dadada" stroke-width="0.3"/>
<line x1="436.80" y1="531.17" x2="452.10" y2="531.17" stroke="#dadada" stroke-width="0.3"/>
<line x1="436.80" y1="535.08" x2="452.10" y2="535.08" stroke="#dadada" stroke-width="0.3"/>
<line x1="436.80" y1="539.00" x2="452.10" y2="539.00" stroke="#dadada" stroke-width="0.3"/>
<line x1="436.80" y1="542.92" x2="452.10" y2="542.92" stroke="#dadada" stroke-width="0.3"/>
<line x1="436.80" y1="546.83" x2="452.10" y2="546.83" stroke="#dadada" stroke-width="0.3"/>
<line x1="436.80" y1="550.75" x2="452.10" y2="550.75" stroke="#dadada" stroke-width="0.3"/>
<line x1="436.80" y1="554.67" x2="452.10" y2="554.67" stroke="#dadada" stroke-width="0.3"/>
<line x1="436.80" y1="558.58" x2="452.10" y2="558.58" stroke="#dadada" stroke-width="0.3"/>
<line x1="436.30" y1="515.50" x2="452.60" y2="515.50" stroke="#111" stroke-width="0.8"/>
<text x="434.50" y="521.80" font-size="3.2" text-anchor="end" fill="#222" transform="rotate(0.05 434.50 521.80)" stroke="#222" stroke-width="0.102">1500.0</text>
<text x="454.90" y="521.80" font-size="3.2" fill="#222" transform="rotate(0.05 454.90 521.80)" stroke="#222" stroke-width="0.102">1500.0</text>
<text x="434.50" y="530.90" font-size="3.2" text-anchor="end" fill="#222" transform="rotate(0.05 434.50 530.90)" stroke="#222" stroke-width="0.102">1125.0</text>
<text x="454.90" y="530.90" font-size="3.2" fill="#222" transform="rotate(0.05 454.90 530.90)" stroke="#222" stroke-width="0.102">1125.0</text>
<text x="434.50" y="540.00" font-size="3.2" text-anchor="end" fill="#222" transform="rotate(0.05 434.50 540.00)" stroke="#222" stroke-width="0.102">750.0</text>
<text x="454.90" y="540.00" font-size="3.2" fill="#222" transform="rotate(0.05 454.90 540.00)" stroke="#222" stroke-width="0.102">750.0</text>
<text x="434.50" y="548.90" font-size="3.2" text-anchor="end" fill="#222" transform="rotate(0.05 434.50 548.90)" stroke="#222" stroke-width="0.102">375.0</text>
<text x="454.90" y="548.90" font-size="3.2" fill="#222" transform="rotate(0.05 454.90 548.90)" stroke="#222" stroke-width="0.102">375.0</text>
<text x="434.50" y="557.80" font-size="3.2" text-anchor="end" fill="#222" transform="rotate(0.05 434.50 557.80)" stroke="#222" stroke-width="0.102">0.0</text>
<text x="454.90" y="557.80" font-size="3.2" fill="#222" transform="rotate(0.05 454.90 557.80)" stroke="#222" stroke-width="0.102">0.0</text>
<rect x="408.80" y="473.80" width="10.40" height="30.40" fill="#000"/>
<text x="415.20" y="489.00" font-size="3.9" text-anchor="middle" font-weight="bold" fill="#fff" transform="rotate(-90.00 415.20 489.00)">Primary data</text>
<rect x="408.80" y="524.00" width="10.40" height="30.20" fill="#000"/>
<text x="415.20" y="539.10" font-size="3.9" text-anchor="middle" font-weight="bold" fill="#fff" transform="rotate(-90.00 415.20 539.10)">Primary data</text>
<rect x="469.60" y="471.80" width="11.00" height="34.00" fill="#ff8a0a" stroke="#7a4a10" stroke-width="0.5"/>
<text x="473.90" y="488.80" font-size="3.8" text-anchor="middle" font-weight="bold" fill="#5a3c00" transform="rotate(90.00 473.90 488.80)" stroke="#5a3c00" stroke-width="0.046">Secondary data</text>
<rect x="469.60" y="522.00" width="11.00" height="34.30" fill="#8fe88f" stroke="#7fd87f" stroke-width="0.5"/>
<text x="473.90" y="539.15" font-size="3.8" text-anchor="middle" font-weight="bold" fill="#1c5a1c" transform="rotate(90.00 473.90 539.15)" stroke="#1c5a1c" stroke-width="0.046">Secondary data</text>
<rect x="163.60" y="445.90" width="178.60" height="119.80" fill="#fff" stroke="#111" stroke-width="0.9"/>
<text x="262.00" y="456.60" font-size="10.4" text-anchor="middle" fill="#111" transform="rotate(0.05 262.00 456.60)">Legend</text>
<text x="290.80" y="480.40" font-size="3.65" font-weight="bold" fill="#111" transform="rotate(0.05 290.80 480.40)" stroke="#111" stroke-width="0.044">Gene names</text>
<text x="290.80" y="491.20" font-size="3.65" font-weight="bold" fill="#111" transform="rotate(0.05 290.80 491.20)" stroke="#111" stroke-width="0.044">Segment coordinates</text>
<text x="290.80" y="502.40" font-size="3.65" font-weight="bold" fill="#111" transform="rotate(0.05 290.80 502.40)" stroke="#111" stroke-width="0.044">Gene endpoint,</text>
<text x="290.80" y="507.30" font-size="3.65" font-weight="bold" fill="#111" transform="rotate(0.05 290.80 507.30)" stroke="#111" stroke-width="0.044">directionality and exon</text>
<text x="290.80" y="512.10" font-size="3.65" font-weight="bold" fill="#111" transform="rotate(0.05 290.80 512.10)" stroke="#111" stroke-width="0.044">indicators</text>
<text x="286.80" y="526.60" font-size="3.65" font-weight="bold" fill="#111" transform="rotate(0.05 286.80 526.60)" stroke="#111" stroke-width="0.044">RNA-seq coverage</text>
<text x="284.20" y="534.80" font-size="3.65" font-weight="bold" fill="#111" transform="rotate(0.05 284.20 534.80)" stroke="#111" stroke-width="0.044">WGS coverage</text>
<text x="284.20" y="547.00" font-size="3.65" font-weight="bold" fill="#2fd06a" transform="rotate(0.05 284.20 547.00)" stroke="#2fd06a" stroke-width="0.044">WGS background coverage</text>
<text x="172.40" y="518.20" font-size="3.65" font-weight="bold" fill="#d8a868" transform="rotate(0.05 172.40 518.20)" stroke="#d8a868" stroke-width="0.044">RNA-seq expression log<tspan font-size="2.5" dy="0.8">2</tspan></text>
<text x="172.40" y="522.90" font-size="3.65" font-weight="bold" fill="#d8a868" transform="rotate(0.05 172.40 522.90)" stroke="#d8a868" stroke-width="0.044">fold-change over baseline</text>
<text x="172.40" y="533.70" font-size="3.65" font-weight="bold" fill="#1a1a4a" transform="rotate(0.05 172.40 533.70)" stroke="#1a1a4a" stroke-width="0.044">RNA-seq expression baseline,</text>
<text x="172.40" y="538.60" font-size="3.65" font-weight="bold" fill="#1a1a4a" transform="rotate(0.05 172.40 538.60)" stroke="#1a1a4a" stroke-width="0.044">log<tspan font-size="2.5" dy="0.8">2</tspan><tspan dy="-0.8"> fold-change = 0</tspan></text>
<text x="191.80" y="562.00" font-size="3.65" font-weight="bold" fill="#d0202a" transform="rotate(0.05 191.80 562.00)" stroke="#d0202a" stroke-width="0.044">Human-viral RNA splice junctions</text>
<path d="M222.83 510.01A58.60 58.60 0 0 1 229.64 505.50L232.20 510.02A53.40 53.40 0 0 0 225.99 514.13Z" fill="#f7ee1a"/>
<path d="M279.36 502.17A58.20 58.20 0 0 1 283.10 503.75L281.32 507.56A54.00 54.00 0 0 0 277.85 506.09Z" fill="#f7ee1a"/>
<path d="M224.65 512.39A55.60 55.60 0 0 1 231.12 508.11" fill="none" stroke="#111" stroke-width="1.0"/>
<path d="M230.71 504.23A59.20 59.20 0 0 1 236.80 501.42L237.98 504.40A56.00 56.00 0 0 0 232.21 507.05Z" fill="#e8141c"/>
<path d="M232.21 507.05A56.00 56.00 0 0 1 237.98 504.40L239.08 507.19A53.00 53.00 0 0 0 233.62 509.70Z" fill="#e8141c"/>
<path d="M239.72 500.36A59.20 59.20 0 0 1 249.24 498.03L249.74 501.19A56.00 56.00 0 0 0 240.73 503.39Z" fill="#e8141c"/>
<path d="M240.73 503.39A56.00 56.00 0 0 1 249.74 501.19L250.21 504.15A53.00 53.00 0 0 0 241.68 506.24Z" fill="#111"/>
<path d="M252.83 497.57A59.20 59.20 0 0 1 261.08 497.36L260.94 500.55A56.00 56.00 0 0 0 253.13 500.76Z" fill="#111"/>
<path d="M253.13 500.76A56.00 56.00 0 0 1 260.94 500.55L260.81 503.55A53.00 53.00 0 0 0 253.42 503.74Z" fill="#e8141c"/>
<path d="M264.69 497.62A59.20 59.20 0 0 1 271.31 498.70L270.62 501.83A56.00 56.00 0 0 0 264.35 500.81Z" fill="#e8141c"/>
<path d="M264.35 500.81A56.00 56.00 0 0 1 270.62 501.83L269.97 504.76A53.00 53.00 0 0 0 264.04 503.79Z" fill="#e8141c"/>
<path d="M273.32 499.19A59.20 59.20 0 0 1 278.75 500.87L277.65 503.88A56.00 56.00 0 0 0 272.52 502.28Z" fill="#e8141c"/>
<path d="M272.52 502.28A56.00 56.00 0 0 1 277.65 503.88L276.63 506.70A53.00 53.00 0 0 0 271.77 505.19Z" fill="#a01818"/>
<path d="M232.71 509.97A53.20 53.20 0 0 1 277.57 506.83" fill="none" stroke="#555" stroke-width="0.5"/>
<path d="M231.33 508.68A55.00 55.00 0 0 1 232.68 507.94L233.90 510.23A52.40 52.40 0 0 0 232.62 510.94Z" fill="#d8d8d8"/>
<path d="M238.97 505.08A55.00 55.00 0 0 1 240.41 504.56L241.27 507.01A52.40 52.40 0 0 0 239.89 507.52Z" fill="#d8d8d8"/>
<path d="M250.85 502.04A55.00 55.00 0 0 1 252.37 501.84L252.66 504.43A52.40 52.40 0 0 0 251.21 504.61Z" fill="#d8d8d8"/>
<path d="M261.76 501.60A55.00 55.00 0 0 1 263.29 501.71L263.07 504.30A52.40 52.40 0 0 0 261.61 504.19Z" fill="#d8d8d8"/>
<path d="M270.59 502.85A55.00 55.00 0 0 1 272.08 503.20L271.44 505.72A52.40 52.40 0 0 0 270.02 505.38Z" fill="#d8d8d8"/>
<path d="M277.04 504.72A55.00 55.00 0 0 1 278.48 505.26L277.53 507.68A52.40 52.40 0 0 0 276.16 507.17Z" fill="#d8d8d8"/>
<line x1="226.49" y1="505.28" x2="219.23" y2="493.66" stroke="#c2c2c2" stroke-width="1.2" stroke-dasharray="0.9 0.55"/>
<line x1="232.50" y1="501.98" x2="226.60" y2="489.62" stroke="#c2c2c2" stroke-width="1.2" stroke-dasharray="0.9 0.55"/>
<line x1="238.64" y1="499.46" x2="234.13" y2="486.52" stroke="#c2c2c2" stroke-width="1.2" stroke-dasharray="0.9 0.55"/>
<line x1="250.30" y1="496.66" x2="248.44" y2="483.09" stroke="#c2c2c2" stroke-width="1.2" stroke-dasharray="0.9 0.55"/>
<line x1="254.29" y1="496.25" x2="253.33" y2="482.58" stroke="#c2c2c2" stroke-width="1.2" stroke-dasharray="0.9 0.55"/>
<line x1="262.29" y1="496.22" x2="263.15" y2="482.55" stroke="#c2c2c2" stroke-width="1.2" stroke-dasharray="0.9 0.55"/>
<line x1="267.95" y1="496.84" x2="270.09" y2="483.31" stroke="#c2c2c2" stroke-width="1.2" stroke-dasharray="0.9 0.55"/>
<line x1="273.93" y1="498.10" x2="277.43" y2="484.86" stroke="#c2c2c2" stroke-width="1.2" stroke-dasharray="0.9 0.55"/>
<line x1="279.75" y1="499.96" x2="284.57" y2="487.14" stroke="#c2c2c2" stroke-width="1.2" stroke-dasharray="0.9 0.55"/>
<text x="230.60" y="481.40" font-size="4.6" text-anchor="middle" fill="#111" transform="rotate(-68.00 230.60 481.40)" dy="1.63" stroke="#111" stroke-width="0.25">E7</text>
<text x="234.40" y="480.00" font-size="4.6" text-anchor="middle" fill="#111" transform="rotate(-68.00 234.40 480.00)" dy="1.63" stroke="#111" stroke-width="0.25">E6</text>
<text x="247.00" y="479.40" font-size="4.6" text-anchor="middle" fill="#111" transform="rotate(-90.00 247.00 479.40)" dy="1.63" stroke="#111" stroke-width="0.25">E1</text>
<text x="262.60" y="479.40" font-size="4.6" text-anchor="middle" fill="#111" transform="rotate(90.00 262.60 479.40)" dy="1.63" stroke="#111" stroke-width="0.25">E1</text>
<text x="275.00" y="479.60" font-size="4.6" text-anchor="middle" fill="#111" transform="rotate(72.00 275.00 479.60)" dy="1.63" stroke="#111" stroke-width="0.25">E2</text>
<text x="279.00" y="481.00" font-size="4.6" text-anchor="middle" fill="#111" transform="rotate(72.00 279.00 481.00)" dy="1.63" stroke="#111" stroke-width="0.25">E5</text>
<path d="M235.45 526.79A37.60 37.60 0 0 1 237.37 525.40" fill="none" stroke="#1a1a1a" stroke-width="0.75"/>
<line x1="239.42" y1="525.97" x2="237.94" y2="521.60" stroke="#1a1a1a" stroke-width="0.8"/>
<path d="M240.96 524.60A36.40 36.40 0 0 1 243.00 523.56" fill="none" stroke="#1a1a1a" stroke-width="0.75"/>
<path d="M239.71 522.32A39.00 39.00 0 0 1 241.89 521.21" fill="none" stroke="#3a3a3a" stroke-width="0.75"/>
<path d="M243.23 523.46A36.40 36.40 0 0 1 245.34 522.56" fill="none" stroke="#1a1a1a" stroke-width="0.75"/>
<path d="M242.14 521.10A39.00 39.00 0 0 1 244.40 520.14" fill="none" stroke="#3a3a3a" stroke-width="0.75"/>
<line x1="247.38" y1="522.26" x2="247.00" y2="517.67" stroke="#1a1a1a" stroke-width="0.8"/>
<path d="M248.59 521.48A36.40 36.40 0 0 1 250.81 520.92" fill="none" stroke="#1a1a1a" stroke-width="0.75"/>
<path d="M247.88 518.97A39.00 39.00 0 0 1 250.26 518.38" fill="none" stroke="#3a3a3a" stroke-width="0.75"/>
<path d="M250.81 519.69A37.60 37.60 0 0 1 253.14 519.28" fill="none" stroke="#1a1a1a" stroke-width="0.75"/>
<line x1="254.74" y1="520.70" x2="255.32" y2="516.12" stroke="#1a1a1a" stroke-width="0.8"/>
<path d="M256.66 518.94A37.60 37.60 0 0 1 259.02 518.90" fill="none" stroke="#1a1a1a" stroke-width="0.75"/>
<path d="M259.26 520.11A36.40 36.40 0 0 1 261.55 520.23" fill="none" stroke="#1a1a1a" stroke-width="0.75"/>
<path d="M259.32 517.51A39.00 39.00 0 0 1 261.76 517.64" fill="none" stroke="#3a3a3a" stroke-width="0.75"/>
<path d="M262.43 520.31A36.40 36.40 0 0 1 264.70 520.63" fill="none" stroke="#1a1a1a" stroke-width="0.75"/>
<path d="M262.71 517.73A39.00 39.00 0 0 1 265.14 518.07" fill="none" stroke="#3a3a3a" stroke-width="0.75"/>
<line x1="266.60" y1="521.42" x2="268.64" y2="517.29" stroke="#1a1a1a" stroke-width="0.8"/>
<path d="M268.66 521.55A36.40 36.40 0 0 1 270.83 522.25" fill="none" stroke="#1a1a1a" stroke-width="0.75"/>
<path d="M269.38 519.05A39.00 39.00 0 0 1 271.71 519.81" fill="none" stroke="#3a3a3a" stroke-width="0.75"/>
<path d="M271.66 522.56A36.40 36.40 0 0 1 273.77 523.46" fill="none" stroke="#1a1a1a" stroke-width="0.75"/>
<path d="M272.60 520.14A39.00 39.00 0 0 1 274.86 521.10" fill="none" stroke="#3a3a3a" stroke-width="0.75"/>
<line x1="275.40" y1="524.71" x2="278.44" y2="521.25" stroke="#1a1a1a" stroke-width="0.8"/>
<path d="M237.69 529.87A33.80 33.80 0 0 1 275.91 527.53L263.91 547.50A10.50 10.50 0 0 0 252.04 548.23Z" fill="#dedede"/>
<path d="M246.20 538.26L244.75 532.68L249.38 537.03L249.00 530.69L252.83 535.76L253.54 529.45L256.44 535.10L258.21 529.00L260.11 535.06L262.90 529.35L263.74 535.65L267.45 530.50L267.21 536.84L269.06 536.63" fill="none" stroke="#1a1a1a" stroke-width="0.85" stroke-linejoin="round"/>
<line x1="252.57" y1="547.71" x2="258.44" y2="556.10" stroke="#d6262c" stroke-width="0.8" opacity="1"/>
<line x1="253.85" y1="546.97" x2="258.47" y2="556.10" stroke="#d6262c" stroke-width="0.8" opacity="0.7"/>
<line x1="264.12" y1="547.51" x2="258.53" y2="556.10" stroke="#d6262c" stroke-width="0.8" opacity="1"/>
<line x1="263.15" y1="546.97" x2="258.51" y2="556.10" stroke="#d6262c" stroke-width="0.8" opacity="0.7"/>
<line x1="288.60" y1="500.40" x2="283.00" y2="502.00" stroke="#111" stroke-width="0.5"/>
<path d="M283.00 502.00L284.64 500.54L285.17 502.38Z" fill="#111"/>
<line x1="284.60" y1="525.00" x2="278.40" y2="527.20" stroke="#111" stroke-width="0.5"/>
<path d="M278.40 527.20L279.95 525.64L280.59 527.44Z" fill="#111"/>
<line x1="281.60" y1="532.80" x2="276.40" y2="534.40" stroke="#111" stroke-width="0.5"/>
<path d="M276.40 534.40L278.01 532.90L278.57 534.73Z" fill="#111"/>
<line x1="281.60" y1="545.00" x2="275.60" y2="546.00" stroke="#111" stroke-width="0.5"/>
<path d="M275.60 546.00L277.40 544.73L277.71 546.62Z" fill="#111"/>
<line x1="225.00" y1="519.60" x2="230.60" y2="521.60" stroke="#111" stroke-width="0.5"/>
<path d="M230.60 521.60L228.41 521.83L229.06 520.03Z" fill="#111"/>
<line x1="229.00" y1="530.00" x2="235.00" y2="528.00" stroke="#111" stroke-width="0.5"/>
<path d="M235.00 528.00L233.42 529.53L232.82 527.72Z" fill="#111"/>
</g>
</svg>
</body></html>
